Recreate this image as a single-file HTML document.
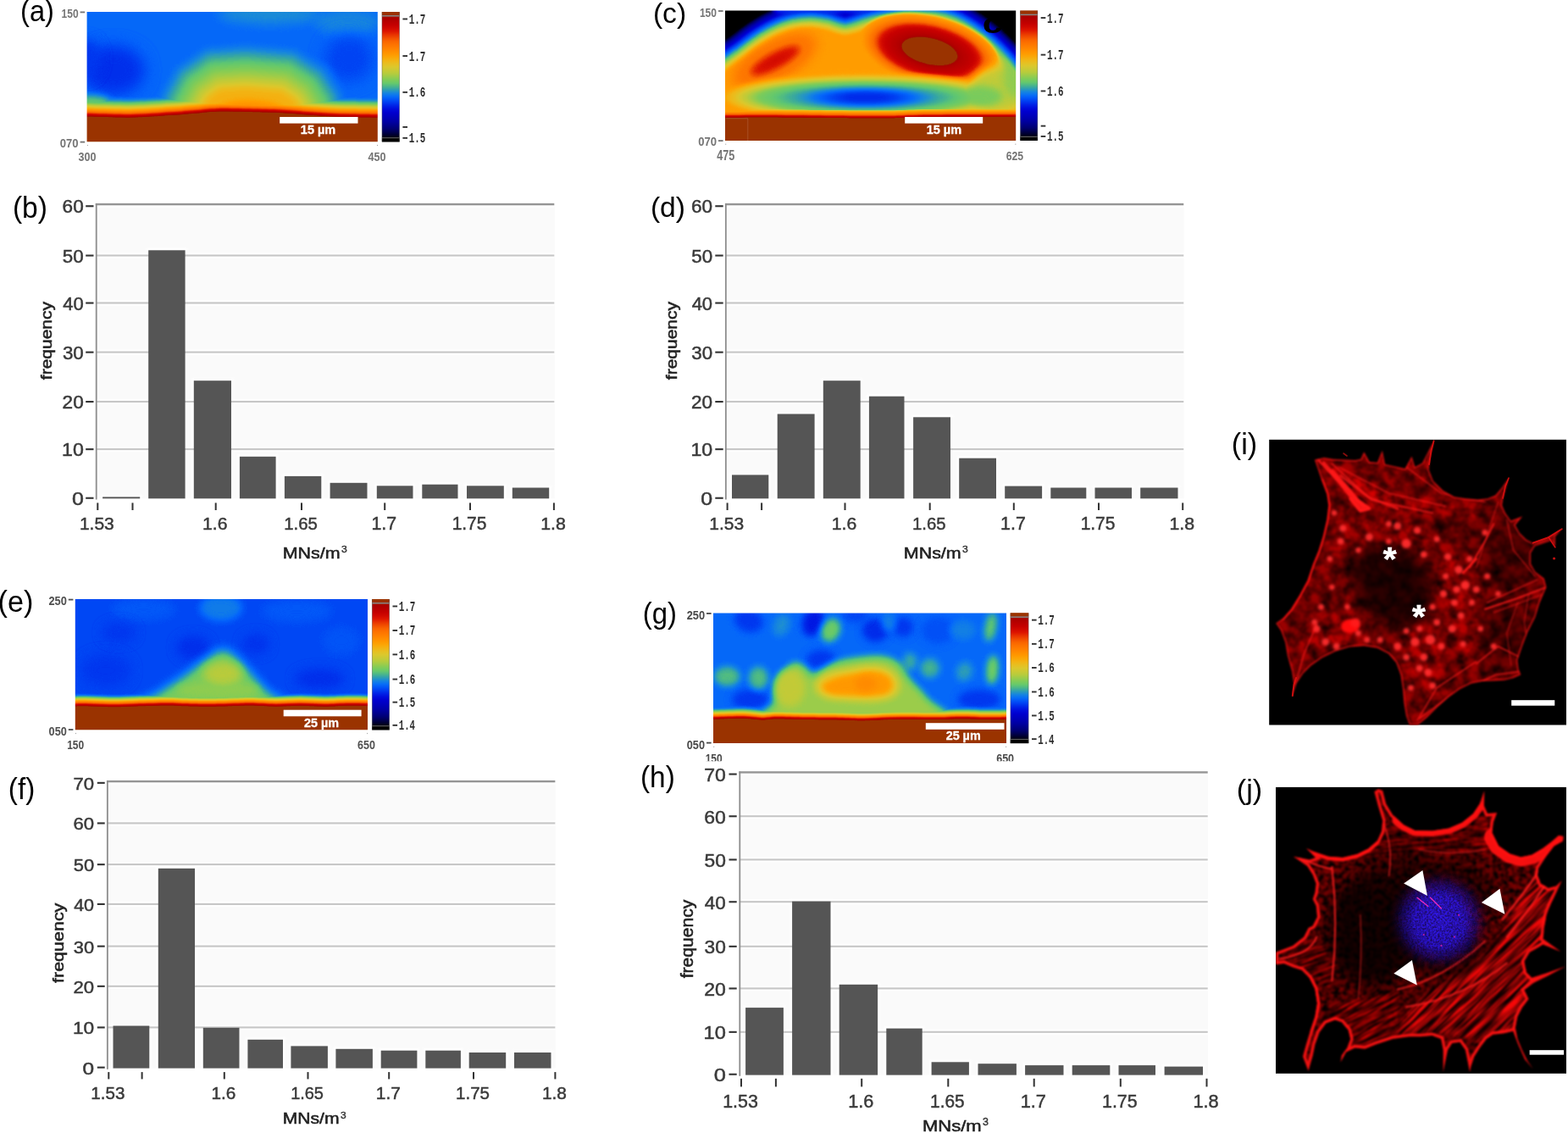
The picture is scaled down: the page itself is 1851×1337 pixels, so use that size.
<!DOCTYPE html>
<html lang="en"><head><meta charset="utf-8"><title>Figure</title>
<style>
html,body{margin:0;padding:0;background:#fff;}
body{width:1851px;height:1337px;overflow:hidden;font-family:"Liberation Sans",sans-serif;}
svg{display:block;}
.lab{font-family:"Liberation Sans",sans-serif;font-size:33px;fill:#000;}
.tk{font-family:"Liberation Sans",sans-serif;font-size:20.5px;fill:#3a3a3a;}
.ax{font-family:"Liberation Sans",sans-serif;font-size:19px;fill:#3a3a3a;}
.hm{font-family:"Liberation Sans",sans-serif;font-weight:bold;font-size:13px;fill:#7a7a7a;}
.cbt{font-family:"Liberation Mono",monospace;font-weight:bold;font-size:15px;fill:#555;}
.sb{font-family:"Liberation Sans",sans-serif;font-weight:bold;font-size:13px;fill:#fff;}
</style></head>
<body>
<svg width="1851" height="1337" viewBox="0 0 1851 1337">
<defs>
<filter id="jet" color-interpolation-filters="sRGB" x="0" y="0" width="1" height="1"><feComponentTransfer><feFuncR type="table" tableValues="0.000 0.000 0.000 0.000 0.000 0.000 0.000 0.000 0.000 0.000 0.000 0.000 0.000 0.000 0.000 0.000 0.000 0.000 0.000 0.000 0.000 0.000 0.000 0.000 0.000 0.000 0.000 0.000 0.000 0.000 0.000 0.000 0.005 0.009 0.014 0.030 0.053 0.076 0.102 0.141 0.180 0.220 0.266 0.312 0.358 0.399 0.437 0.475 0.515 0.559 0.603 0.647 0.691 0.730 0.758 0.787 0.815 0.843 0.868 0.888 0.907 0.926 0.944 0.958 0.972 0.986 1.000 1.000 1.000 1.000 1.000 1.000 1.000 0.999 0.995 0.991 0.987 0.982 0.970 0.958 0.945 0.933 0.917 0.900 0.883 0.867 0.847 0.827 0.808 0.788 0.769 0.750 0.731 0.712 0.693 0.674 0.652 0.627 0.604 0.604 0.604"/><feFuncG type="table" tableValues="0.000 0.000 0.000 0.000 0.000 0.000 0.000 0.000 0.000 0.000 0.000 0.000 0.000 0.000 0.000 0.000 0.000 0.000 0.000 0.000 0.000 0.000 0.000 0.004 0.024 0.043 0.063 0.104 0.144 0.185 0.226 0.267 0.308 0.350 0.391 0.430 0.467 0.504 0.541 0.580 0.620 0.659 0.696 0.733 0.770 0.787 0.792 0.797 0.800 0.800 0.800 0.800 0.800 0.799 0.796 0.793 0.790 0.787 0.780 0.764 0.749 0.734 0.717 0.695 0.672 0.650 0.627 0.607 0.586 0.565 0.544 0.523 0.503 0.483 0.465 0.448 0.430 0.409 0.373 0.338 0.302 0.267 0.221 0.175 0.128 0.082 0.063 0.043 0.024 0.004 0.000 0.000 0.000 0.000 0.000 0.000 0.029 0.078 0.200 0.200 0.200"/><feFuncB type="table" tableValues="0.000 0.010 0.021 0.031 0.100 0.169 0.237 0.293 0.345 0.397 0.450 0.491 0.525 0.558 0.592 0.626 0.660 0.685 0.707 0.730 0.752 0.775 0.798 0.820 0.839 0.859 0.878 0.894 0.910 0.925 0.941 0.957 0.966 0.975 0.985 0.966 0.929 0.892 0.848 0.775 0.701 0.627 0.572 0.517 0.461 0.422 0.394 0.365 0.339 0.317 0.295 0.273 0.251 0.232 0.219 0.206 0.194 0.181 0.167 0.148 0.129 0.109 0.090 0.067 0.045 0.022 0.000 0.000 0.000 0.000 0.000 0.000 0.000 0.000 0.000 0.000 0.000 0.000 0.000 0.000 0.000 0.000 0.000 0.000 0.000 0.000 0.000 0.000 0.000 0.000 0.000 0.000 0.000 0.000 0.000 0.000 0.000 0.000 0.000 0.000 0.000"/></feComponentTransfer></filter>
<filter id="b0_4" x="-50%" y="-50%" width="200%" height="200%" color-interpolation-filters="sRGB"><feGaussianBlur stdDeviation="0.4"/></filter>
<filter id="b0_6" x="-50%" y="-50%" width="200%" height="200%" color-interpolation-filters="sRGB"><feGaussianBlur stdDeviation="0.6"/></filter>
<filter id="b0_8" x="-50%" y="-50%" width="200%" height="200%" color-interpolation-filters="sRGB"><feGaussianBlur stdDeviation="0.8"/></filter>
<filter id="b1" x="-50%" y="-50%" width="200%" height="200%" color-interpolation-filters="sRGB"><feGaussianBlur stdDeviation="1"/></filter>
<filter id="b1_5" x="-50%" y="-50%" width="200%" height="200%" color-interpolation-filters="sRGB"><feGaussianBlur stdDeviation="1.5"/></filter>
<filter id="b2" x="-50%" y="-50%" width="200%" height="200%" color-interpolation-filters="sRGB"><feGaussianBlur stdDeviation="2"/></filter>
<filter id="b3" x="-50%" y="-50%" width="200%" height="200%" color-interpolation-filters="sRGB"><feGaussianBlur stdDeviation="3"/></filter>
<filter id="b4" x="-50%" y="-50%" width="200%" height="200%" color-interpolation-filters="sRGB"><feGaussianBlur stdDeviation="4"/></filter>
<filter id="b5" x="-50%" y="-50%" width="200%" height="200%" color-interpolation-filters="sRGB"><feGaussianBlur stdDeviation="5"/></filter>
<filter id="b6" x="-50%" y="-50%" width="200%" height="200%" color-interpolation-filters="sRGB"><feGaussianBlur stdDeviation="6"/></filter>
<filter id="b8" x="-50%" y="-50%" width="200%" height="200%" color-interpolation-filters="sRGB"><feGaussianBlur stdDeviation="8"/></filter>
<filter id="b10" x="-50%" y="-50%" width="200%" height="200%" color-interpolation-filters="sRGB"><feGaussianBlur stdDeviation="10"/></filter>
<filter id="b12" x="-50%" y="-50%" width="200%" height="200%" color-interpolation-filters="sRGB"><feGaussianBlur stdDeviation="12"/></filter>
<filter id="b15" x="-50%" y="-50%" width="200%" height="200%" color-interpolation-filters="sRGB"><feGaussianBlur stdDeviation="15"/></filter>
<filter id="b20" x="-50%" y="-50%" width="200%" height="200%" color-interpolation-filters="sRGB"><feGaussianBlur stdDeviation="20"/></filter>
<linearGradient id="cbar" x1="0" y1="0" x2="0" y2="1"><stop offset="0.000" stop-color="#9a3300"/><stop offset="0.025" stop-color="#9d2400"/><stop offset="0.050" stop-color="#ac0000"/><stop offset="0.075" stop-color="#b80000"/><stop offset="0.100" stop-color="#c40000"/><stop offset="0.125" stop-color="#d00800"/><stop offset="0.150" stop-color="#dd1500"/><stop offset="0.175" stop-color="#e83200"/><stop offset="0.200" stop-color="#f14d00"/><stop offset="0.225" stop-color="#f96400"/><stop offset="0.250" stop-color="#fd7200"/><stop offset="0.275" stop-color="#ff7e00"/><stop offset="0.300" stop-color="#ff8b00"/><stop offset="0.325" stop-color="#ff9800"/><stop offset="0.350" stop-color="#fba606"/><stop offset="0.375" stop-color="#f2b414"/><stop offset="0.400" stop-color="#e7bf21"/><stop offset="0.425" stop-color="#dbc82d"/><stop offset="0.450" stop-color="#c9ca35"/><stop offset="0.475" stop-color="#b6cc3d"/><stop offset="0.500" stop-color="#9acc4b"/><stop offset="0.525" stop-color="#7ecc59"/><stop offset="0.550" stop-color="#66c96c"/><stop offset="0.575" stop-color="#4ab68b"/><stop offset="0.600" stop-color="#2e9eb3"/><stop offset="0.625" stop-color="#1685df"/><stop offset="0.650" stop-color="#086ef6"/><stop offset="0.675" stop-color="#0254f8"/><stop offset="0.700" stop-color="#003af0"/><stop offset="0.725" stop-color="#0020e6"/><stop offset="0.750" stop-color="#000bdb"/><stop offset="0.775" stop-color="#0000ce"/><stop offset="0.800" stop-color="#0000c0"/><stop offset="0.825" stop-color="#0000b1"/><stop offset="0.850" stop-color="#0000a0"/><stop offset="0.875" stop-color="#00008a"/><stop offset="0.900" stop-color="#000073"/><stop offset="0.925" stop-color="#000051"/><stop offset="0.950" stop-color="#00002b"/><stop offset="0.975" stop-color="#000007"/><stop offset="1.000" stop-color="#000000"/></linearGradient>
<filter id="halo" x="-5%" y="-5%" width="110%" height="110%"><feGaussianBlur stdDeviation="1.2"/></filter>
<filter id="tb" x="-10%" y="-30%" width="120%" height="160%"><feGaussianBlur stdDeviation="0.45"/></filter>
<filter id="tb2" x="-10%" y="-30%" width="120%" height="160%"><feGaussianBlur stdDeviation="0.3"/></filter>
<filter id="fb95_7_00" filterUnits="userSpaceOnUse" x="25" y="-65" width="500" height="310" color-interpolation-filters="sRGB"><feGaussianBlur stdDeviation="7"/></filter>
<filter id="fb95_9_00" filterUnits="userSpaceOnUse" x="25" y="-65" width="500" height="310" color-interpolation-filters="sRGB"><feGaussianBlur stdDeviation="9"/></filter>
<path id="o5_95" d="M234.1,152.8 L239.9,130.4 L247.7,116.8 L260.3,108.1 L289.5,106.1 L331.3,109.6 L345.9,118.8 L353.3,130.4 L358.5,152.8Z"/>
<filter id="fb95_3_50" filterUnits="userSpaceOnUse" x="25" y="-65" width="500" height="310" color-interpolation-filters="sRGB"><feGaussianBlur stdDeviation="3.5"/></filter>
<filter id="fb95_4_00" filterUnits="userSpaceOnUse" x="25" y="-65" width="500" height="310" color-interpolation-filters="sRGB"><feGaussianBlur stdDeviation="4"/></filter>
<filter id="fb95_0_80" filterUnits="userSpaceOnUse" x="25" y="-65" width="500" height="310" color-interpolation-filters="sRGB"><feGaussianBlur stdDeviation="0.8"/></filter>
<path id="o0_850" d="M811.1,113.9 C815.6,100.0 830.7,101.4 838.3,96.4 C845.9,91.4 850.0,88.3 856.8,83.8 C863.6,79.2 872.2,74.0 879.2,69.2 C886.1,64.3 892.1,59.0 898.6,54.6 C905.1,50.2 911.6,46.1 918.1,42.9 C924.6,39.8 931.0,37.3 937.5,35.7 C944.0,34.1 950.8,33.4 957.0,33.4 C963.1,33.4 969.6,34.7 974.5,35.7 C979.3,36.8 982.3,38.6 986.1,39.6 C990.0,40.7 993.9,42.0 997.8,42.0 C1001.7,42.0 1005.6,40.7 1009.5,39.6 C1013.4,38.6 1016.9,37.0 1021.1,35.7 C1025.4,34.4 1029.3,33.0 1034.8,31.8 C1040.3,30.7 1047.7,29.6 1054.2,28.7 C1060.7,27.9 1065.6,27.0 1073.7,26.8 C1081.8,26.5 1094.7,26.3 1102.8,27.2 C1110.9,28.1 1115.8,29.6 1122.3,32.2 C1128.8,34.9 1135.2,38.6 1141.7,42.9 C1148.2,47.2 1154.7,52.2 1161.2,57.9 C1167.7,63.6 1174.3,70.6 1180.6,77.3 C1187.0,84.1 1189.4,89.7 1199.1,98.4 C1208.8,107.0 1232.3,115.9 1239.0,129.5 C1245.6,143.1 1310.3,171.6 1239.0,180.0 C1167.7,188.5 882.4,191.1 811.1,180.0 C739.8,169.0 806.6,127.9 811.1,113.9Z"/>
<filter id="fb850_1_50" filterUnits="userSpaceOnUse" x="780" y="-65" width="500" height="310" color-interpolation-filters="sRGB"><feGaussianBlur stdDeviation="1.5"/></filter>
<filter id="fb850_2_50" filterUnits="userSpaceOnUse" x="780" y="-65" width="500" height="310" color-interpolation-filters="sRGB"><feGaussianBlur stdDeviation="2.5"/></filter>
<filter id="fb850_7_00" filterUnits="userSpaceOnUse" x="780" y="-65" width="500" height="310" color-interpolation-filters="sRGB"><feGaussianBlur stdDeviation="7"/></filter>
<filter id="fb850_8_00" filterUnits="userSpaceOnUse" x="780" y="-65" width="500" height="310" color-interpolation-filters="sRGB"><feGaussianBlur stdDeviation="8"/></filter>
<filter id="fb850_1_60" filterUnits="userSpaceOnUse" x="780" y="-65" width="500" height="310" color-interpolation-filters="sRGB"><feGaussianBlur stdDeviation="1.6"/></filter>
<filter id="fb850_6_00" filterUnits="userSpaceOnUse" x="780" y="-65" width="500" height="310" color-interpolation-filters="sRGB"><feGaussianBlur stdDeviation="6"/></filter>
<filter id="fb850_5_00" filterUnits="userSpaceOnUse" x="780" y="-65" width="500" height="310" color-interpolation-filters="sRGB"><feGaussianBlur stdDeviation="5"/></filter>
<filter id="fb850_2_00" filterUnits="userSpaceOnUse" x="780" y="-65" width="500" height="310" color-interpolation-filters="sRGB"><feGaussianBlur stdDeviation="2.0"/></filter>
<filter id="fb850_0_70" filterUnits="userSpaceOnUse" x="780" y="-65" width="500" height="310" color-interpolation-filters="sRGB"><feGaussianBlur stdDeviation="0.7"/></filter>
<filter id="fb82_5_00" filterUnits="userSpaceOnUse" x="12" y="628" width="500" height="310" color-interpolation-filters="sRGB"><feGaussianBlur stdDeviation="5"/></filter>
<filter id="fb82_6_00" filterUnits="userSpaceOnUse" x="12" y="628" width="500" height="310" color-interpolation-filters="sRGB"><feGaussianBlur stdDeviation="6"/></filter>
<filter id="fb82_7_00" filterUnits="userSpaceOnUse" x="12" y="628" width="500" height="310" color-interpolation-filters="sRGB"><feGaussianBlur stdDeviation="7"/></filter>
<filter id="fb82_4_50" filterUnits="userSpaceOnUse" x="12" y="628" width="500" height="310" color-interpolation-filters="sRGB"><feGaussianBlur stdDeviation="4.5"/></filter>
<filter id="fb82_0_80" filterUnits="userSpaceOnUse" x="12" y="628" width="500" height="310" color-interpolation-filters="sRGB"><feGaussianBlur stdDeviation="0.8"/></filter>
<filter id="fb835_4_50" filterUnits="userSpaceOnUse" x="765" y="645" width="500" height="310" color-interpolation-filters="sRGB"><feGaussianBlur stdDeviation="4.5"/></filter>
<filter id="fb835_4_00" filterUnits="userSpaceOnUse" x="765" y="645" width="500" height="310" color-interpolation-filters="sRGB"><feGaussianBlur stdDeviation="4"/></filter>
<filter id="fb835_5_00" filterUnits="userSpaceOnUse" x="765" y="645" width="500" height="310" color-interpolation-filters="sRGB"><feGaussianBlur stdDeviation="5"/></filter>
<filter id="fb835_3_50" filterUnits="userSpaceOnUse" x="765" y="645" width="500" height="310" color-interpolation-filters="sRGB"><feGaussianBlur stdDeviation="3.5"/></filter>
<filter id="fb835_0_80" filterUnits="userSpaceOnUse" x="765" y="645" width="500" height="310" color-interpolation-filters="sRGB"><feGaussianBlur stdDeviation="0.8"/></filter>
<clipPath id="clipA"><rect x="102.6" y="14.0" width="343.2" height="153.3"/></clipPath>
<clipPath id="clipC"><rect x="856.0" y="12.6" width="343.2" height="153.4"/></clipPath>
<clipPath id="clipE"><rect x="88.8" y="707.0" width="345.2" height="154.3"/></clipPath>
<clipPath id="clipG"><rect x="842.0" y="723.4" width="346.0" height="153.7"/></clipPath>
<clipPath id="clipxG"><rect x="802.0" y="877.1" width="426.0" height="21.2"/></clipPath>
<clipPath id="clipxG"><rect x="802.0" y="877.1" width="426.0" height="21.2"/></clipPath>
<filter id="cb05" x="-40%" y="-40%" width="180%" height="180%" color-interpolation-filters="sRGB"><feGaussianBlur stdDeviation="0.6"/></filter>
<filter id="cb1" x="-40%" y="-40%" width="180%" height="180%" color-interpolation-filters="sRGB"><feGaussianBlur stdDeviation="1.0"/></filter>
<filter id="cb15" x="-40%" y="-40%" width="180%" height="180%" color-interpolation-filters="sRGB"><feGaussianBlur stdDeviation="1.5"/></filter>
<filter id="cb2" x="-40%" y="-40%" width="180%" height="180%" color-interpolation-filters="sRGB"><feGaussianBlur stdDeviation="2.2"/></filter>
<filter id="cb4" x="-40%" y="-40%" width="180%" height="180%" color-interpolation-filters="sRGB"><feGaussianBlur stdDeviation="4.5"/></filter>
<filter id="cb8" x="-40%" y="-40%" width="180%" height="180%" color-interpolation-filters="sRGB"><feGaussianBlur stdDeviation="9"/></filter>
<filter id="cb14" x="-40%" y="-40%" width="180%" height="180%" color-interpolation-filters="sRGB"><feGaussianBlur stdDeviation="14"/></filter>
<filter id="grainI" x="0" y="0" width="1" height="1" color-interpolation-filters="sRGB"><feTurbulence type="fractalNoise" baseFrequency="0.075" numOctaves="3" seed="7" result="n"/><feColorMatrix in="n" type="matrix" values="0 0 0 0 0  0 0 0 0 0  0 0 0 0 0  1.5 0 0 0 -0.42" result="a"/><feFlood flood-color="#000"/><feComposite operator="in" in2="a" result="dark"/><feComposite in="dark" in2="SourceGraphic" operator="over"/><feComposite in2="SourceGraphic" operator="in"/></filter>
<filter id="grainJ" x="0" y="0" width="1" height="1" color-interpolation-filters="sRGB"><feTurbulence type="fractalNoise" baseFrequency="0.16" numOctaves="2" seed="11" result="n"/><feColorMatrix in="n" type="matrix" values="0 0 0 0 0  0 0 0 0 0  0 0 0 0 0  2.4 0 0 0 -0.8" result="a"/><feFlood flood-color="#000"/><feComposite operator="in" in2="a" result="dark"/><feComposite in="dark" in2="SourceGraphic" operator="over"/><feComposite in2="SourceGraphic" operator="in"/></filter>
<clipPath id="clipI"><rect x="1498.2" y="518.8" width="350.8" height="336.7"/></clipPath>
<path id="cellI" d="M1551.9,542.5 L1563.1,539.9 L1573.5,541.8 L1599.7,543.1 L1606.3,541.8 L1610.2,533.3 L1616.7,545.1 L1625.9,545.8 L1631.8,531.4 L1635.0,547.7 L1658.6,553.0 L1666.5,538.6 L1670.4,551.0 L1678.9,546.4 L1692.6,520.2 L1688.0,541.2 L1686.7,554.3 L1691.9,567.4 L1703.7,579.1 L1716.8,586.3 L1729.9,588.3 L1744.3,589.6 L1756.1,588.3 L1765.2,584.4 L1773.1,575.2 L1781.0,564.1 L1774.4,588.3 L1773.1,596.2 L1777.0,605.3 L1783.6,614.5 L1797.3,609.2 L1788.8,619.7 L1794.0,628.9 L1801.9,636.7 L1809.7,640.7 L1828.1,634.1 L1843.8,624.3 L1836.0,633.0 L1835.9,645.9 L1831.0,638.0 L1812.0,644.5 L1807.1,652.4 L1807.1,665.5 L1812.4,674.7 L1822.8,682.5 L1825.5,692.9 L1817.6,711.2 L1812.4,728.2 L1803.2,746.5 L1796.7,763.5 L1791.4,779.2 L1792.7,789.7 L1795.3,796.3 L1786.2,800.2 L1775.7,802.8 L1762.6,803.5 L1749.5,804.1 L1736.4,806.7 L1723.4,813.3 L1710.3,822.4 L1697.2,834.2 L1684.1,847.3 L1674.0,855.6 L1663.8,855.6 L1659.9,844.7 L1657.3,829.0 L1656.0,813.3 L1653.4,796.3 L1648.1,781.9 L1639.0,771.4 L1625.9,764.8 L1610.2,762.2 L1593.2,763.5 L1576.2,768.8 L1560.4,776.6 L1547.4,785.8 L1538.2,794.9 L1530.3,806.7 L1525.8,821.1 L1527.7,809.3 L1525.1,792.3 L1519.9,774.0 L1517.3,758.3 L1512.0,743.9 L1506.1,735.4 L1514.6,729.5 L1523.8,719.0 L1534.3,702.0 L1543.4,685.0 L1550.0,665.5 L1556.5,649.8 L1561.8,632.8 L1566.3,613.2 L1568.3,596.2 L1566.3,583.1 L1560.4,567.4Z"/>
<clipPath id="clipCellI"><use href="#cellI"/></clipPath>
<clipPath id="clipJ"><rect x="1506.0" y="928.9" width="343.0" height="337.9"/></clipPath>
<path id="cellJ" d="M1622.4,934.2 L1627.0,930.9 L1632.2,932.9 L1636.1,948.6 L1644.0,961.6 L1657.1,973.4 L1670.2,980.0 L1690.6,980.6 L1710.3,977.4 L1726.0,970.8 L1739.1,960.3 L1746.9,948.6 L1752.2,932.9 L1752.0,951.0 L1756.0,960.0 L1767.2,959.0 L1763.0,970.0 L1761.3,982.6 L1769.2,998.3 L1782.3,1007.5 L1795.3,1011.4 L1808.4,1008.8 L1821.5,1000.9 L1832.0,993.1 L1840.0,986.0 L1845.5,987.0 L1845.0,992.5 L1834.6,998.3 L1825.5,1010.1 L1816.3,1024.5 L1815.0,1032.3 L1818.9,1042.8 L1828.1,1048.0 L1837.2,1045.4 L1843.8,1038.9 L1837.2,1053.3 L1830.7,1066.4 L1825.5,1079.5 L1822.8,1095.0 L1821.5,1108.1 L1842.5,1123.1 L1821.5,1114.6 L1805.8,1123.8 L1799.3,1134.3 L1801.9,1147.4 L1808.4,1153.9 L1828.1,1147.4 L1848.4,1140.2 L1828.0,1151.0 L1810.0,1160.0 L1799.3,1168.3 L1804.5,1178.8 L1796.7,1189.2 L1791.4,1199.7 L1788.8,1212.8 L1791.4,1225.9 L1796.7,1239.0 L1803.2,1252.1 L1809.7,1261.2 L1800.0,1250.0 L1792.0,1232.0 L1786.2,1216.7 L1775.7,1219.3 L1762.6,1220.7 L1754.8,1225.9 L1746.9,1236.4 L1740.4,1246.8 L1736.4,1258.6 L1735.1,1265.2 L1732.5,1252.1 L1729.9,1239.0 L1723.4,1229.8 L1714.2,1231.1 L1709.0,1239.0 L1706.3,1252.1 L1703.7,1265.2 L1703.7,1239.0 L1701.1,1225.9 L1690.6,1222.0 L1677.5,1223.3 L1663.6,1223.3 L1644.0,1225.9 L1624.3,1232.4 L1611.3,1237.7 L1599.5,1236.4 L1589.0,1241.6 L1582.5,1253.4 L1583.8,1245.5 L1590.3,1236.4 L1594.2,1225.9 L1591.6,1215.4 L1583.8,1206.3 L1575.9,1203.6 L1565.4,1207.6 L1557.6,1218.0 L1552.4,1232.4 L1549.7,1245.5 L1544.5,1263.8 L1538.0,1246.8 L1541.9,1232.4 L1547.1,1215.4 L1552.4,1199.7 L1555.0,1184.0 L1552.4,1167.0 L1545.8,1153.9 L1536.6,1144.7 L1526.2,1141.5 L1515.7,1136.9 L1505.9,1138.2 L1505.9,1123.8 L1526.2,1115.9 L1539.3,1105.5 L1544.5,1095.0 L1549.7,1092.5 L1555.0,1082.1 L1553.7,1069.0 L1549.7,1061.1 L1552.4,1053.3 L1553.7,1042.8 L1549.7,1032.3 L1543.2,1021.9 L1526.8,1010.7 L1546.0,1014.5 L1553.0,1012.0 L1542.0,1001.0 L1552.4,1005.5 L1568.1,1010.7 L1585.1,1012.0 L1602.1,1008.1 L1615.2,1001.5 L1625.7,992.4 L1630.9,981.3 L1632.2,968.2 L1627.0,951.2Z"/>
<clipPath id="clipCellJ"><use href="#cellJ"/></clipPath>
<filter id="fibA" x="-20%" y="-20%" width="140%" height="140%" color-interpolation-filters="sRGB"><feGaussianBlur in="SourceGraphic" stdDeviation="4.0" result="sg"/><feTurbulence type="fractalNoise" baseFrequency="0.022 0.30" numOctaves="2" seed="5" result="n"/><feColorMatrix in="n" type="matrix" values="0 0 0 0 0  0 0 0 0 0  0 0 0 0 0  2.6 0 0 0 -0.78" result="a"/><feFlood flood-color="#000"/><feComposite operator="in" in2="a" result="dark"/><feComposite in="dark" in2="sg" operator="over"/><feComposite in2="sg" operator="in"/></filter>
<filter id="fibB" x="-20%" y="-20%" width="140%" height="140%" color-interpolation-filters="sRGB"><feGaussianBlur in="SourceGraphic" stdDeviation="4.0" result="sg"/><feTurbulence type="fractalNoise" baseFrequency="0.03 0.34" numOctaves="2" seed="9" result="n"/><feColorMatrix in="n" type="matrix" values="0 0 0 0 0  0 0 0 0 0  0 0 0 0 0  2.8 0 0 0 -0.8" result="a"/><feFlood flood-color="#000"/><feComposite operator="in" in2="a" result="dark"/><feComposite in="dark" in2="sg" operator="over"/><feComposite in2="sg" operator="in"/></filter>
<filter id="fibC" x="-20%" y="-20%" width="140%" height="140%" color-interpolation-filters="sRGB"><feGaussianBlur in="SourceGraphic" stdDeviation="3.5" result="sg"/><feTurbulence type="fractalNoise" baseFrequency="0.03 0.30" numOctaves="2" seed="2" result="n"/><feColorMatrix in="n" type="matrix" values="0 0 0 0 0  0 0 0 0 0  0 0 0 0 0  2.6 0 0 0 -0.62" result="a"/><feFlood flood-color="#000"/><feComposite operator="in" in2="a" result="dark"/><feComposite in="dark" in2="sg" operator="over"/><feComposite in2="sg" operator="in"/></filter>
<radialGradient id="gN" gradientUnits="userSpaceOnUse" cx="1698.8" cy="1086.2" r="64"><stop offset="0" stop-color="#3018ec" stop-opacity="1"/><stop offset="0.48" stop-color="#2c14e0" stop-opacity="0.96"/><stop offset="0.7" stop-color="#240cbc" stop-opacity="0.7"/><stop offset="0.87" stop-color="#180680" stop-opacity="0.3"/><stop offset="1" stop-color="#100060" stop-opacity="0"/></radialGradient>
<filter id="grainN" x="0" y="0" width="1" height="1" color-interpolation-filters="sRGB"><feTurbulence type="fractalNoise" baseFrequency="0.45" numOctaves="2" seed="4" result="n"/><feColorMatrix in="n" type="matrix" values="0 0 0 0 0  0 0 0 0 0  0 0 0 0 0  1.3 0 0 0 -0.42" result="a"/><feFlood flood-color="#100010"/><feComposite operator="in" in2="a" result="dark"/><feComposite in="dark" in2="SourceGraphic" operator="over"/><feComposite in2="SourceGraphic" operator="in"/></filter>
</defs>
<rect x="113.7" y="241.1" width="541.0" height="347.2" fill="#fafafa"/>
<g filter="url(#halo)" opacity="0.9"><rect x="118.5" y="583.8" width="49.3" height="4.5" fill="#fff"/><rect x="172.6" y="292.7" width="48.6" height="295.6" fill="#fff"/><rect x="226.2" y="446.6" width="49.4" height="141.7" fill="#fff"/><rect x="280.3" y="536.2" width="47.9" height="52.1" fill="#fff"/><rect x="333.3" y="559.3" width="48.6" height="29.0" fill="#fff"/><rect x="387.0" y="567.2" width="49.1" height="21.1" fill="#fff"/><rect x="442.2" y="570.7" width="47.9" height="17.6" fill="#fff"/><rect x="495.7" y="569.1" width="47.4" height="19.2" fill="#fff"/><rect x="548.4" y="570.7" width="49.0" height="17.6" fill="#fff"/><rect x="602.2" y="572.9" width="48.6" height="15.4" fill="#fff"/></g>
<rect x="113.7" y="526.90" width="541.0" height="6.4" fill="#fff" opacity="0.75"/>
<rect x="113.7" y="529.05" width="540.6" height="2.1" fill="#c6c6c6"/>
<rect x="113.7" y="470.80" width="541.0" height="6.4" fill="#fff" opacity="0.75"/>
<rect x="113.7" y="472.95" width="540.6" height="2.1" fill="#c6c6c6"/>
<rect x="113.7" y="412.40" width="541.0" height="6.4" fill="#fff" opacity="0.75"/>
<rect x="113.7" y="414.55" width="540.6" height="2.1" fill="#c6c6c6"/>
<rect x="113.7" y="354.30" width="541.0" height="6.4" fill="#fff" opacity="0.75"/>
<rect x="113.7" y="356.45" width="540.6" height="2.1" fill="#c6c6c6"/>
<rect x="113.7" y="298.30" width="541.0" height="6.4" fill="#fff" opacity="0.75"/>
<rect x="113.7" y="300.45" width="540.6" height="2.1" fill="#c6c6c6"/>
<rect x="121.1" y="586.4" width="44.1" height="1.9" fill="#555"/>
<rect x="175.2" y="295.3" width="43.4" height="293.0" fill="#555"/>
<rect x="228.8" y="449.2" width="44.2" height="139.1" fill="#555"/>
<rect x="282.9" y="538.8" width="42.7" height="49.5" fill="#555"/>
<rect x="335.9" y="561.9" width="43.4" height="26.4" fill="#555"/>
<rect x="389.6" y="569.8" width="43.9" height="18.5" fill="#555"/>
<rect x="444.8" y="573.3" width="42.7" height="15.0" fill="#555"/>
<rect x="498.3" y="571.7" width="42.2" height="16.6" fill="#555"/>
<rect x="551.0" y="573.3" width="43.8" height="15.0" fill="#555"/>
<rect x="604.8" y="575.5" width="43.4" height="12.8" fill="#555"/>
<rect x="113.7" y="241.10" width="541.0" height="3.6" fill="#fff" opacity="0.8"/>
<rect x="112.80" y="239.90" width="541.5" height="2.4" fill="#959595"/>
<rect x="112.80" y="240.10" width="1.8" height="349.4" fill="#8e8e8e"/>
<rect x="101.2" y="586.70" width="9.3" height="2.1" fill="#333"/>
<text font-family='"Liberation Sans",sans-serif' font-size="21.48" fill="#3a3a3a" stroke="#3a3a3a" stroke-width="0.50" transform="translate(84.95,595.94) scale(1.1600,1)">0</text>
<rect x="101.2" y="529.10" width="9.3" height="2.1" fill="#333"/>
<text font-family='"Liberation Sans",sans-serif' font-size="21.48" fill="#3a3a3a" stroke="#3a3a3a" stroke-width="0.50" transform="translate(73.01,538.34) scale(1.0779,1)">10</text>
<rect x="101.2" y="473.00" width="9.3" height="2.1" fill="#333"/>
<text font-family='"Liberation Sans",sans-serif' font-size="21.48" fill="#3a3a3a" stroke="#3a3a3a" stroke-width="0.50" transform="translate(73.62,482.24) scale(1.0516,1)">20</text>
<rect x="101.2" y="414.60" width="9.3" height="2.1" fill="#333"/>
<text font-family='"Liberation Sans",sans-serif' font-size="21.48" fill="#3a3a3a" stroke="#3a3a3a" stroke-width="0.50" transform="translate(73.91,423.84) scale(1.0389,1)">30</text>
<rect x="101.2" y="356.50" width="9.3" height="2.1" fill="#333"/>
<text font-family='"Liberation Sans",sans-serif' font-size="21.48" fill="#3a3a3a" stroke="#3a3a3a" stroke-width="0.50" transform="translate(74.25,365.74) scale(1.0240,1)">40</text>
<rect x="101.2" y="300.50" width="9.3" height="2.1" fill="#333"/>
<text font-family='"Liberation Sans",sans-serif' font-size="21.48" fill="#3a3a3a" stroke="#3a3a3a" stroke-width="0.50" transform="translate(73.86,309.74) scale(1.0414,1)">50</text>
<rect x="101.2" y="242.20" width="9.3" height="2.1" fill="#333"/>
<text font-family='"Liberation Sans",sans-serif' font-size="21.48" fill="#3a3a3a" stroke="#3a3a3a" stroke-width="0.50" transform="translate(73.62,251.44) scale(1.0516,1)">60</text>
<rect x="114.30" y="593.4" width="2" height="8.6" fill="#333"/>
<text font-family='"Liberation Sans",sans-serif' font-size="21.06" fill="#3a3a3a" stroke="#3a3a3a" stroke-width="0.50" transform="translate(93.92,625.24) scale(0.9977,1)">1.53</text>
<rect x="155.50" y="593.4" width="2" height="8.6" fill="#333"/>
<rect x="253.70" y="593.4" width="2" height="8.6" fill="#333"/>
<text font-family='"Liberation Sans",sans-serif' font-size="21.06" fill="#3a3a3a" stroke="#3a3a3a" stroke-width="0.50" transform="translate(239.01,625.24) scale(1.0075,1)">1.6</text>
<rect x="355.00" y="593.4" width="2" height="8.6" fill="#333"/>
<text font-family='"Liberation Sans",sans-serif' font-size="21.06" fill="#3a3a3a" stroke="#3a3a3a" stroke-width="0.50" transform="translate(335.22,625.24) scale(0.9678,1)">1.65</text>
<rect x="453.20" y="593.4" width="2" height="8.6" fill="#333"/>
<text font-family='"Liberation Sans",sans-serif' font-size="21.67" fill="#3a3a3a" stroke="#3a3a3a" stroke-width="0.50" transform="translate(438.50,625.45) scale(0.9848,1)">1.7</text>
<rect x="554.00" y="593.4" width="2" height="8.6" fill="#333"/>
<text font-family='"Liberation Sans",sans-serif' font-size="21.36" fill="#3a3a3a" stroke="#3a3a3a" stroke-width="0.50" transform="translate(533.63,625.24) scale(0.9823,1)">1.75</text>
<rect x="652.90" y="593.4" width="2" height="8.6" fill="#333"/>
<text font-family='"Liberation Sans",sans-serif' font-size="21.06" fill="#3a3a3a" stroke="#3a3a3a" stroke-width="0.50" transform="translate(638.15,625.24) scale(1.0112,1)">1.8</text>
<text font-family='"Liberation Sans",sans-serif' font-size="18.57" fill="#222" stroke="#222" stroke-width="0.55" transform="translate(333.70,658.64) scale(1.1554,1)">MNs/m</text>
<text font-family='"Liberation Sans",sans-serif' font-size="11.59" fill="#333" stroke="#333" stroke-width="0.40" transform="translate(402.94,652.28) scale(1.0535,1)">3</text>
<text font-family='"Liberation Sans",sans-serif' font-size="19.19" fill="#222" stroke="#222" stroke-width="0.55" transform="translate(60.74,448.14) rotate(-90) scale(1.0938,1)">frequency</text>
<rect x="856.85" y="241.1" width="540.8" height="347.2" fill="#fafafa"/>
<g filter="url(#halo)" opacity="0.9"><rect x="861.4" y="557.8" width="48.5" height="30.5" fill="#fff"/><rect x="915.1" y="485.9" width="49.1" height="102.4" fill="#fff"/><rect x="969.2" y="446.6" width="49.1" height="141.7" fill="#fff"/><rect x="1023.3" y="465.1" width="46.8" height="123.2" fill="#fff"/><rect x="1075.5" y="489.7" width="49.1" height="98.6" fill="#fff"/><rect x="1129.6" y="538.1" width="49.0" height="50.2" fill="#fff"/><rect x="1183.6" y="571.0" width="49.1" height="17.3" fill="#fff"/><rect x="1237.7" y="572.9" width="47.2" height="15.4" fill="#fff"/><rect x="1289.9" y="572.9" width="48.7" height="15.4" fill="#fff"/><rect x="1343.6" y="572.9" width="49.5" height="15.4" fill="#fff"/></g>
<rect x="856.85" y="526.90" width="540.8" height="6.4" fill="#fff" opacity="0.75"/>
<rect x="856.85" y="529.05" width="540.4" height="2.1" fill="#c6c6c6"/>
<rect x="856.85" y="470.80" width="540.8" height="6.4" fill="#fff" opacity="0.75"/>
<rect x="856.85" y="472.95" width="540.4" height="2.1" fill="#c6c6c6"/>
<rect x="856.85" y="412.40" width="540.8" height="6.4" fill="#fff" opacity="0.75"/>
<rect x="856.85" y="414.55" width="540.4" height="2.1" fill="#c6c6c6"/>
<rect x="856.85" y="354.30" width="540.8" height="6.4" fill="#fff" opacity="0.75"/>
<rect x="856.85" y="356.45" width="540.4" height="2.1" fill="#c6c6c6"/>
<rect x="856.85" y="298.30" width="540.8" height="6.4" fill="#fff" opacity="0.75"/>
<rect x="856.85" y="300.45" width="540.4" height="2.1" fill="#c6c6c6"/>
<rect x="864.0" y="560.4" width="43.3" height="27.9" fill="#555"/>
<rect x="917.7" y="488.5" width="43.9" height="99.8" fill="#555"/>
<rect x="971.8" y="449.2" width="43.9" height="139.1" fill="#555"/>
<rect x="1025.9" y="467.7" width="41.6" height="120.6" fill="#555"/>
<rect x="1078.1" y="492.3" width="43.9" height="96.0" fill="#555"/>
<rect x="1132.2" y="540.7" width="43.8" height="47.6" fill="#555"/>
<rect x="1186.2" y="573.6" width="43.9" height="14.7" fill="#555"/>
<rect x="1240.3" y="575.5" width="42.0" height="12.8" fill="#555"/>
<rect x="1292.5" y="575.5" width="43.5" height="12.8" fill="#555"/>
<rect x="1346.2" y="575.5" width="44.3" height="12.8" fill="#555"/>
<rect x="856.85" y="241.10" width="540.8" height="3.6" fill="#fff" opacity="0.8"/>
<rect x="855.95" y="239.90" width="541.3" height="2.4" fill="#959595"/>
<rect x="855.95" y="240.10" width="1.8" height="349.4" fill="#8e8e8e"/>
<rect x="844.3" y="586.70" width="9.4" height="2.1" fill="#333"/>
<text font-family='"Liberation Sans",sans-serif' font-size="21.48" fill="#3a3a3a" stroke="#3a3a3a" stroke-width="0.50" transform="translate(827.35,595.94) scale(1.1600,1)">0</text>
<rect x="844.3" y="529.10" width="9.4" height="2.1" fill="#333"/>
<text font-family='"Liberation Sans",sans-serif' font-size="21.48" fill="#3a3a3a" stroke="#3a3a3a" stroke-width="0.50" transform="translate(815.41,538.34) scale(1.0779,1)">10</text>
<rect x="844.3" y="473.00" width="9.4" height="2.1" fill="#333"/>
<text font-family='"Liberation Sans",sans-serif' font-size="21.48" fill="#3a3a3a" stroke="#3a3a3a" stroke-width="0.50" transform="translate(816.02,482.24) scale(1.0516,1)">20</text>
<rect x="844.3" y="414.60" width="9.4" height="2.1" fill="#333"/>
<text font-family='"Liberation Sans",sans-serif' font-size="21.48" fill="#3a3a3a" stroke="#3a3a3a" stroke-width="0.50" transform="translate(816.31,423.84) scale(1.0389,1)">30</text>
<rect x="844.3" y="356.50" width="9.4" height="2.1" fill="#333"/>
<text font-family='"Liberation Sans",sans-serif' font-size="21.48" fill="#3a3a3a" stroke="#3a3a3a" stroke-width="0.50" transform="translate(816.65,365.74) scale(1.0240,1)">40</text>
<rect x="844.3" y="300.50" width="9.4" height="2.1" fill="#333"/>
<text font-family='"Liberation Sans",sans-serif' font-size="21.48" fill="#3a3a3a" stroke="#3a3a3a" stroke-width="0.50" transform="translate(816.26,309.74) scale(1.0414,1)">50</text>
<rect x="844.3" y="242.20" width="9.4" height="2.1" fill="#333"/>
<text font-family='"Liberation Sans",sans-serif' font-size="21.48" fill="#3a3a3a" stroke="#3a3a3a" stroke-width="0.50" transform="translate(816.02,251.44) scale(1.0516,1)">60</text>
<rect x="857.60" y="593.4" width="2" height="8.6" fill="#333"/>
<text font-family='"Liberation Sans",sans-serif' font-size="21.06" fill="#3a3a3a" stroke="#3a3a3a" stroke-width="0.50" transform="translate(837.22,625.24) scale(0.9977,1)">1.53</text>
<rect x="898.10" y="593.4" width="2" height="8.6" fill="#333"/>
<rect x="996.50" y="593.4" width="2" height="8.6" fill="#333"/>
<text font-family='"Liberation Sans",sans-serif' font-size="21.06" fill="#3a3a3a" stroke="#3a3a3a" stroke-width="0.50" transform="translate(981.81,625.24) scale(1.0075,1)">1.6</text>
<rect x="1096.70" y="593.4" width="2" height="8.6" fill="#333"/>
<text font-family='"Liberation Sans",sans-serif' font-size="21.06" fill="#3a3a3a" stroke="#3a3a3a" stroke-width="0.50" transform="translate(1076.92,625.24) scale(0.9678,1)">1.65</text>
<rect x="1195.80" y="593.4" width="2" height="8.6" fill="#333"/>
<text font-family='"Liberation Sans",sans-serif' font-size="21.67" fill="#3a3a3a" stroke="#3a3a3a" stroke-width="0.50" transform="translate(1181.10,625.45) scale(0.9848,1)">1.7</text>
<rect x="1296.00" y="593.4" width="2" height="8.6" fill="#333"/>
<text font-family='"Liberation Sans",sans-serif' font-size="21.36" fill="#3a3a3a" stroke="#3a3a3a" stroke-width="0.50" transform="translate(1275.63,625.24) scale(0.9823,1)">1.75</text>
<rect x="1395.20" y="593.4" width="2" height="8.6" fill="#333"/>
<text font-family='"Liberation Sans",sans-serif' font-size="21.06" fill="#3a3a3a" stroke="#3a3a3a" stroke-width="0.50" transform="translate(1380.45,625.24) scale(1.0112,1)">1.8</text>
<text font-family='"Liberation Sans",sans-serif' font-size="18.57" fill="#222" stroke="#222" stroke-width="0.55" transform="translate(1066.80,658.64) scale(1.1554,1)">MNs/m</text>
<text font-family='"Liberation Sans",sans-serif' font-size="11.59" fill="#333" stroke="#333" stroke-width="0.40" transform="translate(1136.04,652.28) scale(1.0535,1)">3</text>
<text font-family='"Liberation Sans",sans-serif' font-size="19.19" fill="#222" stroke="#222" stroke-width="0.55" transform="translate(799.14,448.14) rotate(-90) scale(1.0938,1)">frequency</text>
<rect x="126.85" y="922.1" width="528.9" height="338.5" fill="#fafafa"/>
<g filter="url(#halo)" opacity="0.9"><rect x="130.9" y="1207.9" width="48.0" height="52.7" fill="#fff"/><rect x="184.2" y="1022.2" width="48.4" height="238.4" fill="#fff"/><rect x="237.2" y="1210.2" width="47.9" height="50.4" fill="#fff"/><rect x="289.8" y="1224.2" width="46.8" height="36.4" fill="#fff"/><rect x="340.8" y="1231.8" width="48.7" height="28.8" fill="#fff"/><rect x="393.8" y="1235.2" width="48.7" height="25.4" fill="#fff"/><rect x="447.1" y="1237.1" width="47.9" height="23.5" fill="#fff"/><rect x="499.7" y="1237.1" width="46.8" height="23.5" fill="#fff"/><rect x="551.1" y="1239.4" width="48.7" height="21.2" fill="#fff"/><rect x="604.4" y="1239.4" width="48.7" height="21.2" fill="#fff"/></g>
<rect x="126.85" y="1209.20" width="528.9" height="6.4" fill="#fff" opacity="0.75"/>
<rect x="126.85" y="1211.35" width="528.5" height="2.1" fill="#c6c6c6"/>
<rect x="126.85" y="1160.60" width="528.9" height="6.4" fill="#fff" opacity="0.75"/>
<rect x="126.85" y="1162.75" width="528.5" height="2.1" fill="#c6c6c6"/>
<rect x="126.85" y="1113.40" width="528.9" height="6.4" fill="#fff" opacity="0.75"/>
<rect x="126.85" y="1115.55" width="528.5" height="2.1" fill="#c6c6c6"/>
<rect x="126.85" y="1063.70" width="528.9" height="6.4" fill="#fff" opacity="0.75"/>
<rect x="126.85" y="1065.85" width="528.5" height="2.1" fill="#c6c6c6"/>
<rect x="126.85" y="1016.90" width="528.9" height="6.4" fill="#fff" opacity="0.75"/>
<rect x="126.85" y="1019.05" width="528.5" height="2.1" fill="#c6c6c6"/>
<rect x="126.85" y="968.20" width="528.9" height="6.4" fill="#fff" opacity="0.75"/>
<rect x="126.85" y="970.35" width="528.5" height="2.1" fill="#c6c6c6"/>
<rect x="133.5" y="1210.5" width="42.8" height="50.1" fill="#555"/>
<rect x="186.8" y="1024.8" width="43.2" height="235.8" fill="#555"/>
<rect x="239.8" y="1212.8" width="42.7" height="47.8" fill="#555"/>
<rect x="292.4" y="1226.8" width="41.6" height="33.8" fill="#555"/>
<rect x="343.4" y="1234.4" width="43.5" height="26.2" fill="#555"/>
<rect x="396.4" y="1237.8" width="43.5" height="22.8" fill="#555"/>
<rect x="449.7" y="1239.7" width="42.7" height="20.9" fill="#555"/>
<rect x="502.3" y="1239.7" width="41.6" height="20.9" fill="#555"/>
<rect x="553.7" y="1242.0" width="43.5" height="18.6" fill="#555"/>
<rect x="607.0" y="1242.0" width="43.5" height="18.6" fill="#555"/>
<rect x="126.85" y="922.10" width="528.9" height="3.6" fill="#fff" opacity="0.8"/>
<rect x="125.95" y="920.90" width="529.4" height="2.4" fill="#959595"/>
<rect x="125.95" y="921.10" width="1.8" height="340.7" fill="#8e8e8e"/>
<rect x="114.8" y="1258.60" width="8.9" height="2.1" fill="#333"/>
<text font-family='"Liberation Sans",sans-serif' font-size="21.04" fill="#3a3a3a" stroke="#3a3a3a" stroke-width="0.50" transform="translate(97.62,1267.67) scale(1.1598,1)">0</text>
<rect x="114.8" y="1211.40" width="8.9" height="2.1" fill="#333"/>
<text font-family='"Liberation Sans",sans-serif' font-size="21.04" fill="#3a3a3a" stroke="#3a3a3a" stroke-width="0.50" transform="translate(85.92,1220.47) scale(1.0782,1)">10</text>
<rect x="114.8" y="1162.80" width="8.9" height="2.1" fill="#333"/>
<text font-family='"Liberation Sans",sans-serif' font-size="21.04" fill="#3a3a3a" stroke="#3a3a3a" stroke-width="0.50" transform="translate(86.52,1171.87) scale(1.0518,1)">20</text>
<rect x="114.8" y="1115.60" width="8.9" height="2.1" fill="#333"/>
<text font-family='"Liberation Sans",sans-serif' font-size="21.04" fill="#3a3a3a" stroke="#3a3a3a" stroke-width="0.50" transform="translate(86.80,1124.67) scale(1.0391,1)">30</text>
<rect x="114.8" y="1065.90" width="8.9" height="2.1" fill="#333"/>
<text font-family='"Liberation Sans",sans-serif' font-size="21.04" fill="#3a3a3a" stroke="#3a3a3a" stroke-width="0.50" transform="translate(87.14,1074.97) scale(1.0242,1)">40</text>
<rect x="114.8" y="1019.10" width="8.9" height="2.1" fill="#333"/>
<text font-family='"Liberation Sans",sans-serif' font-size="21.04" fill="#3a3a3a" stroke="#3a3a3a" stroke-width="0.50" transform="translate(86.75,1028.17) scale(1.0416,1)">50</text>
<rect x="114.8" y="970.40" width="8.9" height="2.1" fill="#333"/>
<text font-family='"Liberation Sans",sans-serif' font-size="21.04" fill="#3a3a3a" stroke="#3a3a3a" stroke-width="0.50" transform="translate(86.52,979.47) scale(1.0518,1)">60</text>
<rect x="114.8" y="922.80" width="8.9" height="2.1" fill="#333"/>
<text font-family='"Liberation Sans",sans-serif' font-size="21.04" fill="#3a3a3a" stroke="#3a3a3a" stroke-width="0.50" transform="translate(86.52,931.87) scale(1.0518,1)">70</text>
<rect x="127.30" y="1265.1" width="2" height="8.3" fill="#333"/>
<text font-family='"Liberation Sans",sans-serif' font-size="20.49" fill="#3a3a3a" stroke="#3a3a3a" stroke-width="0.50" transform="translate(107.35,1296.95) scale(1.0045,1)">1.53</text>
<rect x="166.60" y="1265.1" width="2" height="8.3" fill="#333"/>
<rect x="263.80" y="1265.1" width="2" height="8.3" fill="#333"/>
<text font-family='"Liberation Sans",sans-serif' font-size="20.49" fill="#3a3a3a" stroke="#3a3a3a" stroke-width="0.50" transform="translate(249.42,1296.95) scale(1.0142,1)">1.6</text>
<rect x="362.50" y="1265.1" width="2" height="8.3" fill="#333"/>
<text font-family='"Liberation Sans",sans-serif' font-size="20.49" fill="#3a3a3a" stroke="#3a3a3a" stroke-width="0.50" transform="translate(343.13,1296.95) scale(0.9744,1)">1.65</text>
<rect x="458.20" y="1265.1" width="2" height="8.3" fill="#333"/>
<text font-family='"Liberation Sans",sans-serif' font-size="21.09" fill="#3a3a3a" stroke="#3a3a3a" stroke-width="0.50" transform="translate(443.81,1297.15) scale(0.9914,1)">1.7</text>
<rect x="558.00" y="1265.1" width="2" height="8.3" fill="#333"/>
<text font-family='"Liberation Sans",sans-serif' font-size="20.79" fill="#3a3a3a" stroke="#3a3a3a" stroke-width="0.50" transform="translate(538.05,1296.94) scale(0.9889,1)">1.75</text>
<rect x="654.40" y="1265.1" width="2" height="8.3" fill="#333"/>
<text font-family='"Liberation Sans",sans-serif' font-size="20.49" fill="#3a3a3a" stroke="#3a3a3a" stroke-width="0.50" transform="translate(639.96,1296.95) scale(1.0180,1)">1.8</text>
<text font-family='"Liberation Sans",sans-serif' font-size="18.16" fill="#222" stroke="#222" stroke-width="0.55" transform="translate(333.73,1326.04) scale(1.1632,1)">MNs/m</text>
<text font-family='"Liberation Sans",sans-serif' font-size="11.31" fill="#333" stroke="#333" stroke-width="0.40" transform="translate(401.95,1319.79) scale(1.0613,1)">3</text>
<text font-family='"Liberation Sans",sans-serif' font-size="18.76" fill="#222" stroke="#222" stroke-width="0.55" transform="translate(75.33,1159.95) rotate(-90) scale(1.1457,1)">frequency</text>
<rect x="873.3" y="911.4" width="552.8" height="357.2" fill="#fafafa"/>
<g filter="url(#halo)" opacity="0.9"><rect x="877.5" y="1186.5" width="50.0" height="82.1" fill="#fff"/><rect x="932.5" y="1061.1" width="50.6" height="207.5" fill="#fff"/><rect x="988.1" y="1159.2" width="50.6" height="109.4" fill="#fff"/><rect x="1043.7" y="1211.0" width="47.6" height="57.6" fill="#fff"/><rect x="1097.0" y="1250.7" width="49.5" height="17.9" fill="#fff"/><rect x="1151.9" y="1252.6" width="50.6" height="16.0" fill="#fff"/><rect x="1207.5" y="1254.5" width="50.6" height="14.1" fill="#fff"/><rect x="1263.1" y="1254.5" width="49.8" height="14.1" fill="#fff"/><rect x="1317.9" y="1254.5" width="48.7" height="14.1" fill="#fff"/><rect x="1372.0" y="1256.0" width="50.6" height="12.6" fill="#fff"/></g>
<rect x="873.3" y="1214.60" width="552.8" height="6.4" fill="#fff" opacity="0.75"/>
<rect x="873.3" y="1216.75" width="552.4" height="2.1" fill="#c6c6c6"/>
<rect x="873.3" y="1163.20" width="552.8" height="6.4" fill="#fff" opacity="0.75"/>
<rect x="873.3" y="1165.35" width="552.4" height="2.1" fill="#c6c6c6"/>
<rect x="873.3" y="1113.60" width="552.8" height="6.4" fill="#fff" opacity="0.75"/>
<rect x="873.3" y="1115.75" width="552.4" height="2.1" fill="#c6c6c6"/>
<rect x="873.3" y="1061.00" width="552.8" height="6.4" fill="#fff" opacity="0.75"/>
<rect x="873.3" y="1063.15" width="552.4" height="2.1" fill="#c6c6c6"/>
<rect x="873.3" y="1011.20" width="552.8" height="6.4" fill="#fff" opacity="0.75"/>
<rect x="873.3" y="1013.35" width="552.4" height="2.1" fill="#c6c6c6"/>
<rect x="873.3" y="960.00" width="552.8" height="6.4" fill="#fff" opacity="0.75"/>
<rect x="873.3" y="962.15" width="552.4" height="2.1" fill="#c6c6c6"/>
<rect x="880.1" y="1189.1" width="44.8" height="79.5" fill="#555"/>
<rect x="935.1" y="1063.7" width="45.4" height="204.9" fill="#555"/>
<rect x="990.7" y="1161.8" width="45.4" height="106.8" fill="#555"/>
<rect x="1046.3" y="1213.6" width="42.4" height="55.0" fill="#555"/>
<rect x="1099.6" y="1253.3" width="44.3" height="15.3" fill="#555"/>
<rect x="1154.5" y="1255.2" width="45.4" height="13.4" fill="#555"/>
<rect x="1210.1" y="1257.1" width="45.4" height="11.5" fill="#555"/>
<rect x="1265.7" y="1257.1" width="44.6" height="11.5" fill="#555"/>
<rect x="1320.5" y="1257.1" width="43.5" height="11.5" fill="#555"/>
<rect x="1374.6" y="1258.6" width="45.4" height="10.0" fill="#555"/>
<rect x="873.3" y="911.40" width="552.8" height="3.6" fill="#fff" opacity="0.8"/>
<rect x="872.40" y="910.20" width="553.3" height="2.4" fill="#959595"/>
<rect x="872.40" y="910.40" width="1.8" height="359.4" fill="#8e8e8e"/>
<rect x="860.5" y="1266.70" width="9.2" height="2.1" fill="#333"/>
<text font-family='"Liberation Sans",sans-serif' font-size="21.93" fill="#3a3a3a" stroke="#3a3a3a" stroke-width="0.50" transform="translate(842.78,1276.10) scale(1.1602,1)">0</text>
<rect x="860.5" y="1216.80" width="9.2" height="2.1" fill="#333"/>
<text font-family='"Liberation Sans",sans-serif' font-size="21.93" fill="#3a3a3a" stroke="#3a3a3a" stroke-width="0.50" transform="translate(830.61,1226.20) scale(1.0777,1)">10</text>
<rect x="860.5" y="1165.40" width="9.2" height="2.1" fill="#333"/>
<text font-family='"Liberation Sans",sans-serif' font-size="21.93" fill="#3a3a3a" stroke="#3a3a3a" stroke-width="0.50" transform="translate(831.23,1174.80) scale(1.0513,1)">20</text>
<rect x="860.5" y="1115.80" width="9.2" height="2.1" fill="#333"/>
<text font-family='"Liberation Sans",sans-serif' font-size="21.93" fill="#3a3a3a" stroke="#3a3a3a" stroke-width="0.50" transform="translate(831.52,1125.20) scale(1.0386,1)">30</text>
<rect x="860.5" y="1063.20" width="9.2" height="2.1" fill="#333"/>
<text font-family='"Liberation Sans",sans-serif' font-size="21.93" fill="#3a3a3a" stroke="#3a3a3a" stroke-width="0.50" transform="translate(831.87,1072.60) scale(1.0238,1)">40</text>
<rect x="860.5" y="1013.40" width="9.2" height="2.1" fill="#333"/>
<text font-family='"Liberation Sans",sans-serif' font-size="21.93" fill="#3a3a3a" stroke="#3a3a3a" stroke-width="0.50" transform="translate(831.46,1022.80) scale(1.0411,1)">50</text>
<rect x="860.5" y="962.20" width="9.2" height="2.1" fill="#333"/>
<text font-family='"Liberation Sans",sans-serif' font-size="21.93" fill="#3a3a3a" stroke="#3a3a3a" stroke-width="0.50" transform="translate(831.23,971.60) scale(1.0513,1)">60</text>
<rect x="860.5" y="912.50" width="9.2" height="2.1" fill="#333"/>
<text font-family='"Liberation Sans",sans-serif' font-size="21.93" fill="#3a3a3a" stroke="#3a3a3a" stroke-width="0.50" transform="translate(831.23,921.90) scale(1.0513,1)">70</text>
<rect x="874.00" y="1272.8" width="2" height="9.6" fill="#333"/>
<text font-family='"Liberation Sans",sans-serif' font-size="21.91" fill="#3a3a3a" stroke="#3a3a3a" stroke-width="0.50" transform="translate(853.20,1306.83) scale(0.9785,1)">1.53</text>
<rect x="914.90" y="1272.8" width="2" height="9.6" fill="#333"/>
<rect x="1016.20" y="1272.8" width="2" height="9.6" fill="#333"/>
<text font-family='"Liberation Sans",sans-serif' font-size="21.91" fill="#3a3a3a" stroke="#3a3a3a" stroke-width="0.50" transform="translate(1001.20,1306.83) scale(0.9882,1)">1.6</text>
<rect x="1118.30" y="1272.8" width="2" height="9.6" fill="#333"/>
<text font-family='"Liberation Sans",sans-serif' font-size="21.91" fill="#3a3a3a" stroke="#3a3a3a" stroke-width="0.50" transform="translate(1098.11,1306.83) scale(0.9492,1)">1.65</text>
<rect x="1219.70" y="1272.8" width="2" height="9.6" fill="#333"/>
<text font-family='"Liberation Sans",sans-serif' font-size="22.55" fill="#3a3a3a" stroke="#3a3a3a" stroke-width="0.50" transform="translate(1204.69,1307.05) scale(0.9660,1)">1.7</text>
<rect x="1321.80" y="1272.8" width="2" height="9.6" fill="#333"/>
<text font-family='"Liberation Sans",sans-serif' font-size="22.22" fill="#3a3a3a" stroke="#3a3a3a" stroke-width="0.50" transform="translate(1301.01,1306.83) scale(0.9634,1)">1.75</text>
<rect x="1423.50" y="1272.8" width="2" height="9.6" fill="#333"/>
<text font-family='"Liberation Sans",sans-serif' font-size="21.91" fill="#3a3a3a" stroke="#3a3a3a" stroke-width="0.50" transform="translate(1408.44,1306.83) scale(0.9919,1)">1.8</text>
<text font-family='"Liberation Sans",sans-serif' font-size="19.12" fill="#222" stroke="#222" stroke-width="0.55" transform="translate(1088.96,1335.13) scale(1.1520,1)">MNs/m</text>
<text font-family='"Liberation Sans",sans-serif' font-size="11.87" fill="#333" stroke="#333" stroke-width="0.40" transform="translate(1160.03,1328.48) scale(1.0462,1)">3</text>
<text font-family='"Liberation Sans",sans-serif' font-size="19.62" fill="#222" stroke="#222" stroke-width="0.55" transform="translate(818.45,1154.24) rotate(-90) scale(1.0733,1)">frequency</text>
<g clip-path="url(#clipA)"><g filter="url(#jet)">
<rect x="62.599999999999994" y="-26.0" width="423.2" height="233.3" fill="rgb(88,88,88)"/>
<g style="mix-blend-mode:lighten"><ellipse cx="318.7" cy="16.7" rx="62.2" ry="11.7" fill="rgb(98,98,98)" filter="url(#fb95_7_00)"/></g>
<g style="mix-blend-mode:lighten"><ellipse cx="410.1" cy="26.4" rx="38.9" ry="15.6" fill="rgb(96,96,96)" filter="url(#fb95_7_00)"/></g>
<g><ellipse cx="133.9" cy="82.8" rx="37.0" ry="29.2" fill="rgb(74,74,74)" filter="url(#fb95_9_00)"/></g>
<g><ellipse cx="100.8" cy="69.2" rx="17.5" ry="23.3" fill="rgb(76,76,76)" filter="url(#fb95_7_00)"/></g>
<g><ellipse cx="412.0" cy="69.2" rx="29.2" ry="27.2" fill="rgb(79,79,79)" filter="url(#fb95_9_00)"/></g>
<g style="mix-blend-mode:lighten" stroke-linejoin="miter" filter="url(#fb95_3_50)"><use href="#o5_95" fill="rgb(88,88,88)" stroke="rgb(88,88,88)" stroke-width="116.0"/><use href="#o5_95" fill="rgb(89,89,89)" stroke="rgb(89,89,89)" stroke-width="113.0"/><use href="#o5_95" fill="rgb(90,90,90)" stroke="rgb(90,90,90)" stroke-width="110.0"/><use href="#o5_95" fill="rgb(91,91,91)" stroke="rgb(91,91,91)" stroke-width="107.0"/><use href="#o5_95" fill="rgb(92,92,92)" stroke="rgb(92,92,92)" stroke-width="104.0"/><use href="#o5_95" fill="rgb(94,94,94)" stroke="rgb(94,94,94)" stroke-width="101.0"/><use href="#o5_95" fill="rgb(96,96,96)" stroke="rgb(96,96,96)" stroke-width="98.0"/><use href="#o5_95" fill="rgb(98,98,98)" stroke="rgb(98,98,98)" stroke-width="95.0"/><use href="#o5_95" fill="rgb(99,99,99)" stroke="rgb(99,99,99)" stroke-width="92.0"/><use href="#o5_95" fill="rgb(101,101,101)" stroke="rgb(101,101,101)" stroke-width="89.0"/><use href="#o5_95" fill="rgb(103,103,103)" stroke="rgb(103,103,103)" stroke-width="86.0"/><use href="#o5_95" fill="rgb(105,105,105)" stroke="rgb(105,105,105)" stroke-width="83.0"/><use href="#o5_95" fill="rgb(106,106,106)" stroke="rgb(106,106,106)" stroke-width="80.0"/><use href="#o5_95" fill="rgb(108,108,108)" stroke="rgb(108,108,108)" stroke-width="77.0"/><use href="#o5_95" fill="rgb(110,110,110)" stroke="rgb(110,110,110)" stroke-width="74.0"/><use href="#o5_95" fill="rgb(111,111,111)" stroke="rgb(111,111,111)" stroke-width="71.0"/><use href="#o5_95" fill="rgb(113,113,113)" stroke="rgb(113,113,113)" stroke-width="68.0"/><use href="#o5_95" fill="rgb(115,115,115)" stroke="rgb(115,115,115)" stroke-width="65.0"/><use href="#o5_95" fill="rgb(116,116,116)" stroke="rgb(116,116,116)" stroke-width="62.0"/><use href="#o5_95" fill="rgb(118,118,118)" stroke="rgb(118,118,118)" stroke-width="59.0"/><use href="#o5_95" fill="rgb(120,120,120)" stroke="rgb(120,120,120)" stroke-width="56.0"/><use href="#o5_95" fill="rgb(121,121,121)" stroke="rgb(121,121,121)" stroke-width="53.0"/><use href="#o5_95" fill="rgb(123,123,123)" stroke="rgb(123,123,123)" stroke-width="50.0"/><use href="#o5_95" fill="rgb(125,125,125)" stroke="rgb(125,125,125)" stroke-width="47.0"/><use href="#o5_95" fill="rgb(126,126,126)" stroke="rgb(126,126,126)" stroke-width="44.0"/><use href="#o5_95" fill="rgb(128,128,128)" stroke="rgb(128,128,128)" stroke-width="41.0"/><use href="#o5_95" fill="rgb(130,130,130)" stroke="rgb(130,130,130)" stroke-width="38.0"/><use href="#o5_95" fill="rgb(131,131,131)" stroke="rgb(131,131,131)" stroke-width="35.0"/><use href="#o5_95" fill="rgb(133,133,133)" stroke="rgb(133,133,133)" stroke-width="32.0"/><use href="#o5_95" fill="rgb(135,135,135)" stroke="rgb(135,135,135)" stroke-width="29.0"/><use href="#o5_95" fill="rgb(137,137,137)" stroke="rgb(137,137,137)" stroke-width="26.0"/><use href="#o5_95" fill="rgb(140,140,140)" stroke="rgb(140,140,140)" stroke-width="23.0"/><use href="#o5_95" fill="rgb(143,143,143)" stroke="rgb(143,143,143)" stroke-width="20.0"/><use href="#o5_95" fill="rgb(146,146,146)" stroke="rgb(146,146,146)" stroke-width="17.0"/><use href="#o5_95" fill="rgb(149,149,149)" stroke="rgb(149,149,149)" stroke-width="14.0"/><use href="#o5_95" fill="rgb(152,152,152)" stroke="rgb(152,152,152)" stroke-width="11.0"/><use href="#o5_95" fill="rgb(154,154,154)" stroke="rgb(154,154,154)" stroke-width="8.0"/><use href="#o5_95" fill="rgb(157,157,157)" stroke="rgb(157,157,157)" stroke-width="5.0"/><use href="#o5_95" fill="rgb(159,159,159)" stroke="rgb(159,159,159)" stroke-width="2.0"/><use href="#o5_95" fill="rgb(161,161,161)"/></g>
<g style="mix-blend-mode:lighten"><path d="M246.7,152.8 C231.8,149.2 250.9,136.4 254.5,131.4 C258.0,126.4 262.3,124.6 268.1,122.7 C273.9,120.7 281.4,119.9 289.5,119.7 C297.6,119.6 309.3,120.1 316.7,121.7 C324.2,123.3 329.7,124.3 334.2,129.5 C338.8,134.7 358.5,148.9 343.9,152.8 C329.4,156.7 261.6,156.4 246.7,152.8Z" fill="rgb(178,178,178)" filter="url(#fb95_4_00)"/></g>
<g style="mix-blend-mode:lighten"><ellipse cx="106.7" cy="121.7" rx="25.3" ry="8.8" fill="rgb(115,115,115)" filter="url(#fb95_4_00)"/></g>
<g style="mix-blend-mode:lighten" filter="url(#fb95_0_80)"><path transform="translate(0,-24.00)" d="M83.3,137.6 C86.6,137.6 91.1,137.1 102.8,137.3 C114.4,137.4 136.8,138.7 153.3,138.4 C169.9,138.2 189.0,136.5 202.0,135.7 C214.9,134.9 222.1,134.1 231.1,133.4 C240.2,132.6 246.7,131.7 256.4,131.4 C266.1,131.2 277.5,131.6 289.5,131.8 C301.5,132.0 317.0,132.3 328.4,132.8 C339.7,133.3 347.8,134.2 357.6,134.9 C367.3,135.6 377.0,136.3 386.7,136.9 C396.5,137.4 406.0,137.8 415.9,138.0 C425.8,138.3 437.9,138.4 446.1,138.4 C454.2,138.5 461.4,138.4 464.5,138.4 L464.5,197.4 L83.3,197.4Z" fill="rgb(87,87,87)"/><path transform="translate(0,-23.00)" d="M83.3,137.6 C86.6,137.6 91.1,137.1 102.8,137.3 C114.4,137.4 136.8,138.7 153.3,138.4 C169.9,138.2 189.0,136.5 202.0,135.7 C214.9,134.9 222.1,134.1 231.1,133.4 C240.2,132.6 246.7,131.7 256.4,131.4 C266.1,131.2 277.5,131.6 289.5,131.8 C301.5,132.0 317.0,132.3 328.4,132.8 C339.7,133.3 347.8,134.2 357.6,134.9 C367.3,135.6 377.0,136.3 386.7,136.9 C396.5,137.4 406.0,137.8 415.9,138.0 C425.8,138.3 437.9,138.4 446.1,138.4 C454.2,138.5 461.4,138.4 464.5,138.4 L464.5,197.4 L83.3,197.4Z" fill="rgb(90,90,90)"/><path transform="translate(0,-22.00)" d="M83.3,137.6 C86.6,137.6 91.1,137.1 102.8,137.3 C114.4,137.4 136.8,138.7 153.3,138.4 C169.9,138.2 189.0,136.5 202.0,135.7 C214.9,134.9 222.1,134.1 231.1,133.4 C240.2,132.6 246.7,131.7 256.4,131.4 C266.1,131.2 277.5,131.6 289.5,131.8 C301.5,132.0 317.0,132.3 328.4,132.8 C339.7,133.3 347.8,134.2 357.6,134.9 C367.3,135.6 377.0,136.3 386.7,136.9 C396.5,137.4 406.0,137.8 415.9,138.0 C425.8,138.3 437.9,138.4 446.1,138.4 C454.2,138.5 461.4,138.4 464.5,138.4 L464.5,197.4 L83.3,197.4Z" fill="rgb(93,93,93)"/><path transform="translate(0,-21.00)" d="M83.3,137.6 C86.6,137.6 91.1,137.1 102.8,137.3 C114.4,137.4 136.8,138.7 153.3,138.4 C169.9,138.2 189.0,136.5 202.0,135.7 C214.9,134.9 222.1,134.1 231.1,133.4 C240.2,132.6 246.7,131.7 256.4,131.4 C266.1,131.2 277.5,131.6 289.5,131.8 C301.5,132.0 317.0,132.3 328.4,132.8 C339.7,133.3 347.8,134.2 357.6,134.9 C367.3,135.6 377.0,136.3 386.7,136.9 C396.5,137.4 406.0,137.8 415.9,138.0 C425.8,138.3 437.9,138.4 446.1,138.4 C454.2,138.5 461.4,138.4 464.5,138.4 L464.5,197.4 L83.3,197.4Z" fill="rgb(96,96,96)"/><path transform="translate(0,-20.00)" d="M83.3,137.6 C86.6,137.6 91.1,137.1 102.8,137.3 C114.4,137.4 136.8,138.7 153.3,138.4 C169.9,138.2 189.0,136.5 202.0,135.7 C214.9,134.9 222.1,134.1 231.1,133.4 C240.2,132.6 246.7,131.7 256.4,131.4 C266.1,131.2 277.5,131.6 289.5,131.8 C301.5,132.0 317.0,132.3 328.4,132.8 C339.7,133.3 347.8,134.2 357.6,134.9 C367.3,135.6 377.0,136.3 386.7,136.9 C396.5,137.4 406.0,137.8 415.9,138.0 C425.8,138.3 437.9,138.4 446.1,138.4 C454.2,138.5 461.4,138.4 464.5,138.4 L464.5,197.4 L83.3,197.4Z" fill="rgb(99,99,99)"/><path transform="translate(0,-19.00)" d="M83.3,137.6 C86.6,137.6 91.1,137.1 102.8,137.3 C114.4,137.4 136.8,138.7 153.3,138.4 C169.9,138.2 189.0,136.5 202.0,135.7 C214.9,134.9 222.1,134.1 231.1,133.4 C240.2,132.6 246.7,131.7 256.4,131.4 C266.1,131.2 277.5,131.6 289.5,131.8 C301.5,132.0 317.0,132.3 328.4,132.8 C339.7,133.3 347.8,134.2 357.6,134.9 C367.3,135.6 377.0,136.3 386.7,136.9 C396.5,137.4 406.0,137.8 415.9,138.0 C425.8,138.3 437.9,138.4 446.1,138.4 C454.2,138.5 461.4,138.4 464.5,138.4 L464.5,197.4 L83.3,197.4Z" fill="rgb(105,105,105)"/><path transform="translate(0,-18.00)" d="M83.3,137.6 C86.6,137.6 91.1,137.1 102.8,137.3 C114.4,137.4 136.8,138.7 153.3,138.4 C169.9,138.2 189.0,136.5 202.0,135.7 C214.9,134.9 222.1,134.1 231.1,133.4 C240.2,132.6 246.7,131.7 256.4,131.4 C266.1,131.2 277.5,131.6 289.5,131.8 C301.5,132.0 317.0,132.3 328.4,132.8 C339.7,133.3 347.8,134.2 357.6,134.9 C367.3,135.6 377.0,136.3 386.7,136.9 C396.5,137.4 406.0,137.8 415.9,138.0 C425.8,138.3 437.9,138.4 446.1,138.4 C454.2,138.5 461.4,138.4 464.5,138.4 L464.5,197.4 L83.3,197.4Z" fill="rgb(110,110,110)"/><path transform="translate(0,-17.00)" d="M83.3,137.6 C86.6,137.6 91.1,137.1 102.8,137.3 C114.4,137.4 136.8,138.7 153.3,138.4 C169.9,138.2 189.0,136.5 202.0,135.7 C214.9,134.9 222.1,134.1 231.1,133.4 C240.2,132.6 246.7,131.7 256.4,131.4 C266.1,131.2 277.5,131.6 289.5,131.8 C301.5,132.0 317.0,132.3 328.4,132.8 C339.7,133.3 347.8,134.2 357.6,134.9 C367.3,135.6 377.0,136.3 386.7,136.9 C396.5,137.4 406.0,137.8 415.9,138.0 C425.8,138.3 437.9,138.4 446.1,138.4 C454.2,138.5 461.4,138.4 464.5,138.4 L464.5,197.4 L83.3,197.4Z" fill="rgb(115,115,115)"/><path transform="translate(0,-16.00)" d="M83.3,137.6 C86.6,137.6 91.1,137.1 102.8,137.3 C114.4,137.4 136.8,138.7 153.3,138.4 C169.9,138.2 189.0,136.5 202.0,135.7 C214.9,134.9 222.1,134.1 231.1,133.4 C240.2,132.6 246.7,131.7 256.4,131.4 C266.1,131.2 277.5,131.6 289.5,131.8 C301.5,132.0 317.0,132.3 328.4,132.8 C339.7,133.3 347.8,134.2 357.6,134.9 C367.3,135.6 377.0,136.3 386.7,136.9 C396.5,137.4 406.0,137.8 415.9,138.0 C425.8,138.3 437.9,138.4 446.1,138.4 C454.2,138.5 461.4,138.4 464.5,138.4 L464.5,197.4 L83.3,197.4Z" fill="rgb(120,120,120)"/><path transform="translate(0,-15.00)" d="M83.3,137.6 C86.6,137.6 91.1,137.1 102.8,137.3 C114.4,137.4 136.8,138.7 153.3,138.4 C169.9,138.2 189.0,136.5 202.0,135.7 C214.9,134.9 222.1,134.1 231.1,133.4 C240.2,132.6 246.7,131.7 256.4,131.4 C266.1,131.2 277.5,131.6 289.5,131.8 C301.5,132.0 317.0,132.3 328.4,132.8 C339.7,133.3 347.8,134.2 357.6,134.9 C367.3,135.6 377.0,136.3 386.7,136.9 C396.5,137.4 406.0,137.8 415.9,138.0 C425.8,138.3 437.9,138.4 446.1,138.4 C454.2,138.5 461.4,138.4 464.5,138.4 L464.5,197.4 L83.3,197.4Z" fill="rgb(127,127,127)"/><path transform="translate(0,-14.00)" d="M83.3,137.6 C86.6,137.6 91.1,137.1 102.8,137.3 C114.4,137.4 136.8,138.7 153.3,138.4 C169.9,138.2 189.0,136.5 202.0,135.7 C214.9,134.9 222.1,134.1 231.1,133.4 C240.2,132.6 246.7,131.7 256.4,131.4 C266.1,131.2 277.5,131.6 289.5,131.8 C301.5,132.0 317.0,132.3 328.4,132.8 C339.7,133.3 347.8,134.2 357.6,134.9 C367.3,135.6 377.0,136.3 386.7,136.9 C396.5,137.4 406.0,137.8 415.9,138.0 C425.8,138.3 437.9,138.4 446.1,138.4 C454.2,138.5 461.4,138.4 464.5,138.4 L464.5,197.4 L83.3,197.4Z" fill="rgb(134,134,134)"/><path transform="translate(0,-13.00)" d="M83.3,137.6 C86.6,137.6 91.1,137.1 102.8,137.3 C114.4,137.4 136.8,138.7 153.3,138.4 C169.9,138.2 189.0,136.5 202.0,135.7 C214.9,134.9 222.1,134.1 231.1,133.4 C240.2,132.6 246.7,131.7 256.4,131.4 C266.1,131.2 277.5,131.6 289.5,131.8 C301.5,132.0 317.0,132.3 328.4,132.8 C339.7,133.3 347.8,134.2 357.6,134.9 C367.3,135.6 377.0,136.3 386.7,136.9 C396.5,137.4 406.0,137.8 415.9,138.0 C425.8,138.3 437.9,138.4 446.1,138.4 C454.2,138.5 461.4,138.4 464.5,138.4 L464.5,197.4 L83.3,197.4Z" fill="rgb(141,141,141)"/><path transform="translate(0,-12.00)" d="M83.3,137.6 C86.6,137.6 91.1,137.1 102.8,137.3 C114.4,137.4 136.8,138.7 153.3,138.4 C169.9,138.2 189.0,136.5 202.0,135.7 C214.9,134.9 222.1,134.1 231.1,133.4 C240.2,132.6 246.7,131.7 256.4,131.4 C266.1,131.2 277.5,131.6 289.5,131.8 C301.5,132.0 317.0,132.3 328.4,132.8 C339.7,133.3 347.8,134.2 357.6,134.9 C367.3,135.6 377.0,136.3 386.7,136.9 C396.5,137.4 406.0,137.8 415.9,138.0 C425.8,138.3 437.9,138.4 446.1,138.4 C454.2,138.5 461.4,138.4 464.5,138.4 L464.5,197.4 L83.3,197.4Z" fill="rgb(148,148,148)"/><path transform="translate(0,-11.00)" d="M83.3,137.6 C86.6,137.6 91.1,137.1 102.8,137.3 C114.4,137.4 136.8,138.7 153.3,138.4 C169.9,138.2 189.0,136.5 202.0,135.7 C214.9,134.9 222.1,134.1 231.1,133.4 C240.2,132.6 246.7,131.7 256.4,131.4 C266.1,131.2 277.5,131.6 289.5,131.8 C301.5,132.0 317.0,132.3 328.4,132.8 C339.7,133.3 347.8,134.2 357.6,134.9 C367.3,135.6 377.0,136.3 386.7,136.9 C396.5,137.4 406.0,137.8 415.9,138.0 C425.8,138.3 437.9,138.4 446.1,138.4 C454.2,138.5 461.4,138.4 464.5,138.4 L464.5,197.4 L83.3,197.4Z" fill="rgb(155,155,155)"/><path transform="translate(0,-10.00)" d="M83.3,137.6 C86.6,137.6 91.1,137.1 102.8,137.3 C114.4,137.4 136.8,138.7 153.3,138.4 C169.9,138.2 189.0,136.5 202.0,135.7 C214.9,134.9 222.1,134.1 231.1,133.4 C240.2,132.6 246.7,131.7 256.4,131.4 C266.1,131.2 277.5,131.6 289.5,131.8 C301.5,132.0 317.0,132.3 328.4,132.8 C339.7,133.3 347.8,134.2 357.6,134.9 C367.3,135.6 377.0,136.3 386.7,136.9 C396.5,137.4 406.0,137.8 415.9,138.0 C425.8,138.3 437.9,138.4 446.1,138.4 C454.2,138.5 461.4,138.4 464.5,138.4 L464.5,197.4 L83.3,197.4Z" fill="rgb(162,162,162)"/><path transform="translate(0,-9.00)" d="M83.3,137.6 C86.6,137.6 91.1,137.1 102.8,137.3 C114.4,137.4 136.8,138.7 153.3,138.4 C169.9,138.2 189.0,136.5 202.0,135.7 C214.9,134.9 222.1,134.1 231.1,133.4 C240.2,132.6 246.7,131.7 256.4,131.4 C266.1,131.2 277.5,131.6 289.5,131.8 C301.5,132.0 317.0,132.3 328.4,132.8 C339.7,133.3 347.8,134.2 357.6,134.9 C367.3,135.6 377.0,136.3 386.7,136.9 C396.5,137.4 406.0,137.8 415.9,138.0 C425.8,138.3 437.9,138.4 446.1,138.4 C454.2,138.5 461.4,138.4 464.5,138.4 L464.5,197.4 L83.3,197.4Z" fill="rgb(168,168,168)"/><path transform="translate(0,-8.00)" d="M83.3,137.6 C86.6,137.6 91.1,137.1 102.8,137.3 C114.4,137.4 136.8,138.7 153.3,138.4 C169.9,138.2 189.0,136.5 202.0,135.7 C214.9,134.9 222.1,134.1 231.1,133.4 C240.2,132.6 246.7,131.7 256.4,131.4 C266.1,131.2 277.5,131.6 289.5,131.8 C301.5,132.0 317.0,132.3 328.4,132.8 C339.7,133.3 347.8,134.2 357.6,134.9 C367.3,135.6 377.0,136.3 386.7,136.9 C396.5,137.4 406.0,137.8 415.9,138.0 C425.8,138.3 437.9,138.4 446.1,138.4 C454.2,138.5 461.4,138.4 464.5,138.4 L464.5,197.4 L83.3,197.4Z" fill="rgb(175,175,175)"/><path transform="translate(0,-7.00)" d="M83.3,137.6 C86.6,137.6 91.1,137.1 102.8,137.3 C114.4,137.4 136.8,138.7 153.3,138.4 C169.9,138.2 189.0,136.5 202.0,135.7 C214.9,134.9 222.1,134.1 231.1,133.4 C240.2,132.6 246.7,131.7 256.4,131.4 C266.1,131.2 277.5,131.6 289.5,131.8 C301.5,132.0 317.0,132.3 328.4,132.8 C339.7,133.3 347.8,134.2 357.6,134.9 C367.3,135.6 377.0,136.3 386.7,136.9 C396.5,137.4 406.0,137.8 415.9,138.0 C425.8,138.3 437.9,138.4 446.1,138.4 C454.2,138.5 461.4,138.4 464.5,138.4 L464.5,197.4 L83.3,197.4Z" fill="rgb(182,182,182)"/><path transform="translate(0,-6.00)" d="M83.3,137.6 C86.6,137.6 91.1,137.1 102.8,137.3 C114.4,137.4 136.8,138.7 153.3,138.4 C169.9,138.2 189.0,136.5 202.0,135.7 C214.9,134.9 222.1,134.1 231.1,133.4 C240.2,132.6 246.7,131.7 256.4,131.4 C266.1,131.2 277.5,131.6 289.5,131.8 C301.5,132.0 317.0,132.3 328.4,132.8 C339.7,133.3 347.8,134.2 357.6,134.9 C367.3,135.6 377.0,136.3 386.7,136.9 C396.5,137.4 406.0,137.8 415.9,138.0 C425.8,138.3 437.9,138.4 446.1,138.4 C454.2,138.5 461.4,138.4 464.5,138.4 L464.5,197.4 L83.3,197.4Z" fill="rgb(189,189,189)"/><path transform="translate(0,-5.00)" d="M83.3,137.6 C86.6,137.6 91.1,137.1 102.8,137.3 C114.4,137.4 136.8,138.7 153.3,138.4 C169.9,138.2 189.0,136.5 202.0,135.7 C214.9,134.9 222.1,134.1 231.1,133.4 C240.2,132.6 246.7,131.7 256.4,131.4 C266.1,131.2 277.5,131.6 289.5,131.8 C301.5,132.0 317.0,132.3 328.4,132.8 C339.7,133.3 347.8,134.2 357.6,134.9 C367.3,135.6 377.0,136.3 386.7,136.9 C396.5,137.4 406.0,137.8 415.9,138.0 C425.8,138.3 437.9,138.4 446.1,138.4 C454.2,138.5 461.4,138.4 464.5,138.4 L464.5,197.4 L83.3,197.4Z" fill="rgb(200,200,200)"/><path transform="translate(0,-4.00)" d="M83.3,137.6 C86.6,137.6 91.1,137.1 102.8,137.3 C114.4,137.4 136.8,138.7 153.3,138.4 C169.9,138.2 189.0,136.5 202.0,135.7 C214.9,134.9 222.1,134.1 231.1,133.4 C240.2,132.6 246.7,131.7 256.4,131.4 C266.1,131.2 277.5,131.6 289.5,131.8 C301.5,132.0 317.0,132.3 328.4,132.8 C339.7,133.3 347.8,134.2 357.6,134.9 C367.3,135.6 377.0,136.3 386.7,136.9 C396.5,137.4 406.0,137.8 415.9,138.0 C425.8,138.3 437.9,138.4 446.1,138.4 C454.2,138.5 461.4,138.4 464.5,138.4 L464.5,197.4 L83.3,197.4Z" fill="rgb(211,211,211)"/><path transform="translate(0,-3.00)" d="M83.3,137.6 C86.6,137.6 91.1,137.1 102.8,137.3 C114.4,137.4 136.8,138.7 153.3,138.4 C169.9,138.2 189.0,136.5 202.0,135.7 C214.9,134.9 222.1,134.1 231.1,133.4 C240.2,132.6 246.7,131.7 256.4,131.4 C266.1,131.2 277.5,131.6 289.5,131.8 C301.5,132.0 317.0,132.3 328.4,132.8 C339.7,133.3 347.8,134.2 357.6,134.9 C367.3,135.6 377.0,136.3 386.7,136.9 C396.5,137.4 406.0,137.8 415.9,138.0 C425.8,138.3 437.9,138.4 446.1,138.4 C454.2,138.5 461.4,138.4 464.5,138.4 L464.5,197.4 L83.3,197.4Z" fill="rgb(222,222,222)"/><path transform="translate(0,-2.00)" d="M83.3,137.6 C86.6,137.6 91.1,137.1 102.8,137.3 C114.4,137.4 136.8,138.7 153.3,138.4 C169.9,138.2 189.0,136.5 202.0,135.7 C214.9,134.9 222.1,134.1 231.1,133.4 C240.2,132.6 246.7,131.7 256.4,131.4 C266.1,131.2 277.5,131.6 289.5,131.8 C301.5,132.0 317.0,132.3 328.4,132.8 C339.7,133.3 347.8,134.2 357.6,134.9 C367.3,135.6 377.0,136.3 386.7,136.9 C396.5,137.4 406.0,137.8 415.9,138.0 C425.8,138.3 437.9,138.4 446.1,138.4 C454.2,138.5 461.4,138.4 464.5,138.4 L464.5,197.4 L83.3,197.4Z" fill="rgb(231,231,231)"/><path transform="translate(0,-1.00)" d="M83.3,137.6 C86.6,137.6 91.1,137.1 102.8,137.3 C114.4,137.4 136.8,138.7 153.3,138.4 C169.9,138.2 189.0,136.5 202.0,135.7 C214.9,134.9 222.1,134.1 231.1,133.4 C240.2,132.6 246.7,131.7 256.4,131.4 C266.1,131.2 277.5,131.6 289.5,131.8 C301.5,132.0 317.0,132.3 328.4,132.8 C339.7,133.3 347.8,134.2 357.6,134.9 C367.3,135.6 377.0,136.3 386.7,136.9 C396.5,137.4 406.0,137.8 415.9,138.0 C425.8,138.3 437.9,138.4 446.1,138.4 C454.2,138.5 461.4,138.4 464.5,138.4 L464.5,197.4 L83.3,197.4Z" fill="rgb(240,240,240)"/><path transform="translate(0,-0.00)" d="M83.3,137.6 C86.6,137.6 91.1,137.1 102.8,137.3 C114.4,137.4 136.8,138.7 153.3,138.4 C169.9,138.2 189.0,136.5 202.0,135.7 C214.9,134.9 222.1,134.1 231.1,133.4 C240.2,132.6 246.7,131.7 256.4,131.4 C266.1,131.2 277.5,131.6 289.5,131.8 C301.5,132.0 317.0,132.3 328.4,132.8 C339.7,133.3 347.8,134.2 357.6,134.9 C367.3,135.6 377.0,136.3 386.7,136.9 C396.5,137.4 406.0,137.8 415.9,138.0 C425.8,138.3 437.9,138.4 446.1,138.4 C454.2,138.5 461.4,138.4 464.5,138.4 L464.5,197.4 L83.3,197.4Z" fill="rgb(255,255,255)"/></g>
</g></g>
<rect x="450.9" y="14.0" width="20.7" height="153.3" fill="url(#cbar)"/>
<rect x="450.9" y="14.0" width="20.7" height="3.6" fill="#9a3300"/>
<rect x="450.9" y="18.0" width="20.7" height="1.5" fill="#858585"/>
<rect x="450.9" y="162.1" width="20.7" height="1.4" fill="#5c5c5c"/>
<rect x="450.9" y="163.5" width="20.7" height="3.8" fill="#000"/>
<rect x="450.6" y="14.0" width="0.9" height="153.3" fill="#555" opacity="0.45"/>
<rect x="471.0" y="14.0" width="0.9" height="153.3" fill="#555" opacity="0.45"/>
<rect x="475.4" y="21.5" width="5.6" height="1.9" fill="#303030" filter="url(#tb2)"/>
<text font-weight="bold" font-family='"Liberation Mono",monospace' font-size="16.73" fill="#2e2e2e" filter="url(#tb2)" transform="translate(482.66,27.90) scale(0.6534,1)">1.7</text>
<rect x="475.4" y="65.1" width="5.6" height="1.9" fill="#303030" filter="url(#tb2)"/>
<text font-weight="bold" font-family='"Liberation Mono",monospace' font-size="16.73" fill="#2e2e2e" filter="url(#tb2)" transform="translate(482.66,71.50) scale(0.6534,1)">1.7</text>
<rect x="475.4" y="107.9" width="5.6" height="1.9" fill="#303030" filter="url(#tb2)"/>
<text font-weight="bold" font-family='"Liberation Mono",monospace' font-size="16.18" fill="#2e2e2e" filter="url(#tb2)" transform="translate(482.67,114.14) scale(0.6707,1)">1.6</text>
<rect x="475.4" y="149.0" width="5.6" height="1.9" fill="#303030" filter="url(#tb2)"/>
<rect x="475.4" y="161.9" width="5.6" height="1.9" fill="#303030" filter="url(#tb2)"/>
<text font-weight="bold" font-family='"Liberation Mono",monospace' font-size="16.48" fill="#2e2e2e" filter="url(#tb2)" transform="translate(482.67,168.14) scale(0.6574,1)">1.5</text>
<text font-weight="bold" font-family='"Liberation Sans",sans-serif' font-size="15.55" fill="#757575" filter="url(#tb)" transform="translate(72.55,21.14) scale(0.7726,1)">150</text>
<rect x="94.6" y="13.5" width="5.6" height="1.8" fill="#757575" filter="url(#tb)"/>
<text font-weight="bold" font-family='"Liberation Sans",sans-serif' font-size="15.55" fill="#757575" filter="url(#tb)" transform="translate(70.78,173.74) scale(0.8427,1)">070</text>
<rect x="94.6" y="166.7" width="5.6" height="1.8" fill="#757575" filter="url(#tb)"/>
<text font-weight="bold" font-family='"Liberation Sans",sans-serif' font-size="15.49" fill="#757575" filter="url(#tb)" transform="translate(92.62,190.11) scale(0.8123,1)">300</text>
<text font-weight="bold" font-family='"Liberation Sans",sans-serif' font-size="15.55" fill="#757575" filter="url(#tb)" transform="translate(434.51,190.14) scale(0.8137,1)">450</text>
<rect x="102.9" y="170.9" width="0.9" height="1.2" fill="#999"/>
<rect x="445.0" y="170.9" width="0.9" height="1.2" fill="#999"/>
<rect x="330.2" y="138" width="92.3" height="7.6" fill="#fff"/>
<text font-weight="bold" font-family='"Liberation Sans",sans-serif' font-size="14.41" fill="#fff" stroke="#fff" stroke-width="0.30" transform="translate(354.84,158.06) scale(1.0080,1)">15 µm</text>
<g clip-path="url(#clipC)"><g filter="url(#jet)">
<rect x="816.0" y="-27.4" width="423.2" height="233.4" fill="rgb(0,0,0)"/>
<g style="mix-blend-mode:lighten" stroke-linejoin="round" filter="url(#fb850_1_50)"><use href="#o0_850" fill="rgb(0,0,0)" stroke="rgb(0,0,0)" stroke-width="70.0"/><use href="#o0_850" fill="rgb(4,4,4)" stroke="rgb(4,4,4)" stroke-width="67.5"/><use href="#o0_850" fill="rgb(8,8,8)" stroke="rgb(8,8,8)" stroke-width="65.0"/><use href="#o0_850" fill="rgb(14,14,14)" stroke="rgb(14,14,14)" stroke-width="62.5"/><use href="#o0_850" fill="rgb(21,21,21)" stroke="rgb(21,21,21)" stroke-width="60.0"/><use href="#o0_850" fill="rgb(28,28,28)" stroke="rgb(28,28,28)" stroke-width="57.5"/><use href="#o0_850" fill="rgb(35,35,35)" stroke="rgb(35,35,35)" stroke-width="55.0"/><use href="#o0_850" fill="rgb(43,43,43)" stroke="rgb(43,43,43)" stroke-width="52.5"/><use href="#o0_850" fill="rgb(50,50,50)" stroke="rgb(50,50,50)" stroke-width="50.0"/><use href="#o0_850" fill="rgb(58,58,58)" stroke="rgb(58,58,58)" stroke-width="47.5"/><use href="#o0_850" fill="rgb(66,66,66)" stroke="rgb(66,66,66)" stroke-width="45.0"/><use href="#o0_850" fill="rgb(72,72,72)" stroke="rgb(72,72,72)" stroke-width="42.5"/><use href="#o0_850" fill="rgb(77,77,77)" stroke="rgb(77,77,77)" stroke-width="40.0"/><use href="#o0_850" fill="rgb(82,82,82)" stroke="rgb(82,82,82)" stroke-width="37.5"/><use href="#o0_850" fill="rgb(87,87,87)" stroke="rgb(87,87,87)" stroke-width="35.0"/><use href="#o0_850" fill="rgb(93,93,93)" stroke="rgb(93,93,93)" stroke-width="32.5"/><use href="#o0_850" fill="rgb(99,99,99)" stroke="rgb(99,99,99)" stroke-width="30.0"/><use href="#o0_850" fill="rgb(104,104,104)" stroke="rgb(104,104,104)" stroke-width="27.5"/><use href="#o0_850" fill="rgb(110,110,110)" stroke="rgb(110,110,110)" stroke-width="25.0"/><use href="#o0_850" fill="rgb(116,116,116)" stroke="rgb(116,116,116)" stroke-width="22.5"/><use href="#o0_850" fill="rgb(123,123,123)" stroke="rgb(123,123,123)" stroke-width="20.0"/><use href="#o0_850" fill="rgb(129,129,129)" stroke="rgb(129,129,129)" stroke-width="17.5"/><use href="#o0_850" fill="rgb(136,136,136)" stroke="rgb(136,136,136)" stroke-width="15.0"/><use href="#o0_850" fill="rgb(143,143,143)" stroke="rgb(143,143,143)" stroke-width="12.5"/><use href="#o0_850" fill="rgb(149,149,149)" stroke="rgb(149,149,149)" stroke-width="10.0"/><use href="#o0_850" fill="rgb(154,154,154)" stroke="rgb(154,154,154)" stroke-width="7.5"/><use href="#o0_850" fill="rgb(159,159,159)" stroke="rgb(159,159,159)" stroke-width="5.0"/><use href="#o0_850" fill="rgb(164,164,164)" stroke="rgb(164,164,164)" stroke-width="2.5"/><use href="#o0_850" fill="rgb(170,170,170)"/></g>
<g style="mix-blend-mode:lighten"><path d="M914.2,8.9 L1122.3,8.9 L1122.3,16.3 L914.2,16.3Z" fill="rgb(76,76,76)" filter="url(#fb850_2_50)"/></g>
<g style="mix-blend-mode:lighten"><ellipse cx="915.2" cy="71.5" rx="38.9" ry="12.8" fill="rgb(224,224,224)" transform="rotate(-28 915.2 71.5)" filter="url(#fb850_7_00)"/></g>
<g style="mix-blend-mode:lighten"><ellipse cx="914.2" cy="72.1" rx="56.4" ry="22.4" fill="rgb(189,189,189)" transform="rotate(-28 914.2 72.1)" filter="url(#fb850_8_00)"/></g>
<g style="mix-blend-mode:lighten" transform="rotate(13 1097.4 60.4)" filter="url(#fb850_1_60)"><ellipse cx="1097.4" cy="60.4" rx="83.6" ry="41.8" fill="rgb(170,170,170)"/><ellipse cx="1097.4" cy="60.4" rx="81.2" ry="40.4" fill="rgb(173,173,173)"/><ellipse cx="1097.4" cy="60.4" rx="78.8" ry="38.9" fill="rgb(177,177,177)"/><ellipse cx="1097.4" cy="60.4" rx="76.3" ry="37.4" fill="rgb(180,180,180)"/><ellipse cx="1097.4" cy="60.4" rx="73.9" ry="36.0" fill="rgb(184,184,184)"/><ellipse cx="1097.4" cy="60.4" rx="71.7" ry="34.8" fill="rgb(189,189,189)"/><ellipse cx="1097.4" cy="60.4" rx="69.5" ry="33.5" fill="rgb(194,194,194)"/><ellipse cx="1097.4" cy="60.4" rx="67.3" ry="32.3" fill="rgb(199,199,199)"/><ellipse cx="1097.4" cy="60.4" rx="65.2" ry="31.1" fill="rgb(204,204,204)"/><ellipse cx="1097.4" cy="60.4" rx="63.5" ry="30.2" fill="rgb(209,209,209)"/><ellipse cx="1097.4" cy="60.4" rx="61.8" ry="29.4" fill="rgb(214,214,214)"/><ellipse cx="1097.4" cy="60.4" rx="60.0" ry="28.5" fill="rgb(218,218,218)"/><ellipse cx="1097.4" cy="60.4" rx="58.3" ry="27.6" fill="rgb(223,223,223)"/><ellipse cx="1097.4" cy="60.4" rx="55.9" ry="26.4" fill="rgb(225,225,225)"/><ellipse cx="1097.4" cy="60.4" rx="53.5" ry="25.1" fill="rgb(228,228,228)"/><ellipse cx="1097.4" cy="60.4" rx="51.1" ry="23.8" fill="rgb(230,230,230)"/><ellipse cx="1097.4" cy="60.4" rx="48.6" ry="22.6" fill="rgb(232,232,232)"/><ellipse cx="1097.4" cy="60.4" rx="46.2" ry="21.4" fill="rgb(234,234,234)"/><ellipse cx="1097.4" cy="60.4" rx="43.8" ry="20.2" fill="rgb(235,235,235)"/><ellipse cx="1097.4" cy="60.4" rx="41.3" ry="19.1" fill="rgb(237,237,237)"/><ellipse cx="1097.4" cy="60.4" rx="38.9" ry="17.9" fill="rgb(238,238,238)"/><ellipse cx="1097.4" cy="60.4" rx="37.7" ry="17.3" fill="rgb(240,240,240)"/><ellipse cx="1097.4" cy="60.4" rx="36.6" ry="16.7" fill="rgb(241,241,241)"/><ellipse cx="1097.4" cy="60.4" rx="35.4" ry="16.1" fill="rgb(242,242,242)"/><ellipse cx="1097.4" cy="60.4" rx="34.2" ry="15.6" fill="rgb(244,244,244)"/><ellipse cx="1097.4" cy="60.4" rx="33.9" ry="15.4" fill="rgb(246,246,246)"/><ellipse cx="1097.4" cy="60.4" rx="33.6" ry="15.3" fill="rgb(249,249,249)"/><ellipse cx="1097.4" cy="60.4" rx="33.4" ry="15.1" fill="rgb(252,252,252)"/><ellipse cx="1097.4" cy="60.4" rx="33.1" ry="15.0" fill="rgb(255,255,255)"/><ellipse cx="1097.4" cy="60.4" rx="32.6" ry="14.6" fill="rgb(255,255,255)"/><ellipse cx="1097.4" cy="60.4" rx="32.1" ry="14.3" fill="rgb(255,255,255)"/><ellipse cx="1097.4" cy="60.4" rx="31.6" ry="14.0" fill="rgb(255,255,255)"/><ellipse cx="1097.4" cy="60.4" rx="31.1" ry="13.6" fill="rgb(255,255,255)"/></g>
<g style="mix-blend-mode:darken"><ellipse cx="1180.6" cy="106.1" rx="35.0" ry="27.2" fill="rgb(139,139,139)" filter="url(#fb850_6_00)"/></g>
<g style="mix-blend-mode:darken"><ellipse cx="1200.1" cy="82.8" rx="17.5" ry="35.0" fill="rgb(125,125,125)" filter="url(#fb850_6_00)"/></g>
<g style="mix-blend-mode:darken"><ellipse cx="1153.4" cy="113.9" rx="31.1" ry="13.6" fill="rgb(120,120,120)" filter="url(#fb850_5_00)"/></g>
<g style="mix-blend-mode:darken" filter="url(#fb850_2_00)"><ellipse cx="1022.1" cy="115.1" rx="173.1" ry="29.2" fill="rgb(170,170,170)"/><ellipse cx="1022.1" cy="115.1" rx="169.2" ry="28.0" fill="rgb(165,165,165)"/><ellipse cx="1022.1" cy="115.1" rx="165.3" ry="26.8" fill="rgb(161,161,161)"/><ellipse cx="1022.1" cy="115.1" rx="161.4" ry="25.7" fill="rgb(157,157,157)"/><ellipse cx="1022.1" cy="115.1" rx="157.5" ry="24.5" fill="rgb(153,153,153)"/><ellipse cx="1022.1" cy="115.1" rx="153.6" ry="23.6" fill="rgb(148,148,148)"/><ellipse cx="1022.1" cy="115.1" rx="149.8" ry="22.8" fill="rgb(143,143,143)"/><ellipse cx="1022.1" cy="115.1" rx="145.9" ry="21.9" fill="rgb(139,139,139)"/><ellipse cx="1022.1" cy="115.1" rx="142.0" ry="21.0" fill="rgb(134,134,134)"/><ellipse cx="1022.1" cy="115.1" rx="138.6" ry="20.3" fill="rgb(130,130,130)"/><ellipse cx="1022.1" cy="115.1" rx="135.2" ry="19.6" fill="rgb(127,127,127)"/><ellipse cx="1022.1" cy="115.1" rx="131.8" ry="19.0" fill="rgb(123,123,123)"/><ellipse cx="1022.1" cy="115.1" rx="128.4" ry="18.3" fill="rgb(120,120,120)"/><ellipse cx="1022.1" cy="115.1" rx="123.0" ry="17.5" fill="rgb(118,118,118)"/><ellipse cx="1022.1" cy="115.1" rx="117.7" ry="16.7" fill="rgb(116,116,116)"/><ellipse cx="1022.1" cy="115.1" rx="112.3" ry="15.9" fill="rgb(114,114,114)"/><ellipse cx="1022.1" cy="115.1" rx="107.0" ry="15.2" fill="rgb(112,112,112)"/><ellipse cx="1022.1" cy="115.1" rx="102.1" ry="14.6" fill="rgb(110,110,110)"/><ellipse cx="1022.1" cy="115.1" rx="97.2" ry="14.0" fill="rgb(108,108,108)"/><ellipse cx="1022.1" cy="115.1" rx="92.4" ry="13.4" fill="rgb(106,106,106)"/><ellipse cx="1022.1" cy="115.1" rx="87.5" ry="12.8" fill="rgb(105,105,105)"/><ellipse cx="1022.1" cy="115.1" rx="83.1" ry="12.4" fill="rgb(102,102,102)"/><ellipse cx="1022.1" cy="115.1" rx="78.8" ry="11.9" fill="rgb(100,100,100)"/><ellipse cx="1022.1" cy="115.1" rx="74.4" ry="11.4" fill="rgb(98,98,98)"/><ellipse cx="1022.1" cy="115.1" rx="70.0" ry="10.9" fill="rgb(96,96,96)"/><ellipse cx="1022.1" cy="115.1" rx="66.6" ry="10.4" fill="rgb(93,93,93)"/><ellipse cx="1022.1" cy="115.1" rx="63.2" ry="9.9" fill="rgb(91,91,91)"/><ellipse cx="1022.1" cy="115.1" rx="59.8" ry="9.4" fill="rgb(89,89,89)"/><ellipse cx="1022.1" cy="115.1" rx="56.4" ry="8.9" fill="rgb(87,87,87)"/><ellipse cx="1022.1" cy="115.1" rx="52.5" ry="8.4" fill="rgb(85,85,85)"/><ellipse cx="1022.1" cy="115.1" rx="48.6" ry="7.8" fill="rgb(83,83,83)"/><ellipse cx="1022.1" cy="115.1" rx="44.7" ry="7.2" fill="rgb(81,81,81)"/><ellipse cx="1022.1" cy="115.1" rx="40.8" ry="6.6" fill="rgb(79,79,79)"/><ellipse cx="1022.1" cy="115.1" rx="36.5" ry="5.9" fill="rgb(77,77,77)"/><ellipse cx="1022.1" cy="115.1" rx="32.1" ry="5.3" fill="rgb(76,76,76)"/><ellipse cx="1022.1" cy="115.1" rx="27.7" ry="4.6" fill="rgb(74,74,74)"/><ellipse cx="1022.1" cy="115.1" rx="23.3" ry="3.9" fill="rgb(73,73,73)"/></g>
<g style="mix-blend-mode:lighten" filter="url(#fb850_0_70)"><path transform="translate(0,-9.00)" d="M838.3,138.8 C850.0,138.7 883.7,138.4 908.3,138.4 C933.0,138.5 963.5,139.0 986.1,139.2 C1008.8,139.4 1028.3,139.7 1044.5,139.6 C1060.7,139.5 1067.2,138.7 1083.4,138.4 C1099.6,138.2 1119.0,138.1 1141.7,138.0 C1164.4,138.0 1206.6,138.0 1219.5,138.0 L1219.5,182.4 L838.3,182.4Z" fill="rgb(158,158,158)"/><path transform="translate(0,-8.00)" d="M838.3,138.8 C850.0,138.7 883.7,138.4 908.3,138.4 C933.0,138.5 963.5,139.0 986.1,139.2 C1008.8,139.4 1028.3,139.7 1044.5,139.6 C1060.7,139.5 1067.2,138.7 1083.4,138.4 C1099.6,138.2 1119.0,138.1 1141.7,138.0 C1164.4,138.0 1206.6,138.0 1219.5,138.0 L1219.5,182.4 L838.3,182.4Z" fill="rgb(166,166,166)"/><path transform="translate(0,-7.00)" d="M838.3,138.8 C850.0,138.7 883.7,138.4 908.3,138.4 C933.0,138.5 963.5,139.0 986.1,139.2 C1008.8,139.4 1028.3,139.7 1044.5,139.6 C1060.7,139.5 1067.2,138.7 1083.4,138.4 C1099.6,138.2 1119.0,138.1 1141.7,138.0 C1164.4,138.0 1206.6,138.0 1219.5,138.0 L1219.5,182.4 L838.3,182.4Z" fill="rgb(173,173,173)"/><path transform="translate(0,-6.00)" d="M838.3,138.8 C850.0,138.7 883.7,138.4 908.3,138.4 C933.0,138.5 963.5,139.0 986.1,139.2 C1008.8,139.4 1028.3,139.7 1044.5,139.6 C1060.7,139.5 1067.2,138.7 1083.4,138.4 C1099.6,138.2 1119.0,138.1 1141.7,138.0 C1164.4,138.0 1206.6,138.0 1219.5,138.0 L1219.5,182.4 L838.3,182.4Z" fill="rgb(182,182,182)"/><path transform="translate(0,-5.00)" d="M838.3,138.8 C850.0,138.7 883.7,138.4 908.3,138.4 C933.0,138.5 963.5,139.0 986.1,139.2 C1008.8,139.4 1028.3,139.7 1044.5,139.6 C1060.7,139.5 1067.2,138.7 1083.4,138.4 C1099.6,138.2 1119.0,138.1 1141.7,138.0 C1164.4,138.0 1206.6,138.0 1219.5,138.0 L1219.5,182.4 L838.3,182.4Z" fill="rgb(190,190,190)"/><path transform="translate(0,-4.00)" d="M838.3,138.8 C850.0,138.7 883.7,138.4 908.3,138.4 C933.0,138.5 963.5,139.0 986.1,139.2 C1008.8,139.4 1028.3,139.7 1044.5,139.6 C1060.7,139.5 1067.2,138.7 1083.4,138.4 C1099.6,138.2 1119.0,138.1 1141.7,138.0 C1164.4,138.0 1206.6,138.0 1219.5,138.0 L1219.5,182.4 L838.3,182.4Z" fill="rgb(201,201,201)"/><path transform="translate(0,-3.00)" d="M838.3,138.8 C850.0,138.7 883.7,138.4 908.3,138.4 C933.0,138.5 963.5,139.0 986.1,139.2 C1008.8,139.4 1028.3,139.7 1044.5,139.6 C1060.7,139.5 1067.2,138.7 1083.4,138.4 C1099.6,138.2 1119.0,138.1 1141.7,138.0 C1164.4,138.0 1206.6,138.0 1219.5,138.0 L1219.5,182.4 L838.3,182.4Z" fill="rgb(215,215,215)"/><path transform="translate(0,-2.00)" d="M838.3,138.8 C850.0,138.7 883.7,138.4 908.3,138.4 C933.0,138.5 963.5,139.0 986.1,139.2 C1008.8,139.4 1028.3,139.7 1044.5,139.6 C1060.7,139.5 1067.2,138.7 1083.4,138.4 C1099.6,138.2 1119.0,138.1 1141.7,138.0 C1164.4,138.0 1206.6,138.0 1219.5,138.0 L1219.5,182.4 L838.3,182.4Z" fill="rgb(228,228,228)"/><path transform="translate(0,-1.00)" d="M838.3,138.8 C850.0,138.7 883.7,138.4 908.3,138.4 C933.0,138.5 963.5,139.0 986.1,139.2 C1008.8,139.4 1028.3,139.7 1044.5,139.6 C1060.7,139.5 1067.2,138.7 1083.4,138.4 C1099.6,138.2 1119.0,138.1 1141.7,138.0 C1164.4,138.0 1206.6,138.0 1219.5,138.0 L1219.5,182.4 L838.3,182.4Z" fill="rgb(240,240,240)"/><path transform="translate(0,-0.00)" d="M838.3,138.8 C850.0,138.7 883.7,138.4 908.3,138.4 C933.0,138.5 963.5,139.0 986.1,139.2 C1008.8,139.4 1028.3,139.7 1044.5,139.6 C1060.7,139.5 1067.2,138.7 1083.4,138.4 C1099.6,138.2 1119.0,138.1 1141.7,138.0 C1164.4,138.0 1206.6,138.0 1219.5,138.0 L1219.5,182.4 L838.3,182.4Z" fill="rgb(255,255,255)"/></g>
</g></g>
<path d="M857,139.8 H882.8 V166" fill="none" stroke="#c08060" stroke-opacity="0.55" stroke-width="0.7"/><text font-weight="bold" font-family='"Liberation Sans",sans-serif' font-size="33.42" fill="#000" filter="url(#tb)" transform="translate(1159.68,39.47) scale(1.2888,1)">c</text>
<rect x="1204.4" y="12.6" width="20.5" height="153.4" fill="url(#cbar)"/>
<rect x="1204.4" y="12.6" width="20.5" height="3.6" fill="#9a3300"/>
<rect x="1204.4" y="16.6" width="20.5" height="1.5" fill="#858585"/>
<rect x="1204.4" y="160.8" width="20.5" height="1.4" fill="#5c5c5c"/>
<rect x="1204.4" y="162.2" width="20.5" height="3.8" fill="#000"/>
<rect x="1204.1" y="12.6" width="0.9" height="153.4" fill="#555" opacity="0.45"/>
<rect x="1224.3" y="12.6" width="0.9" height="153.4" fill="#555" opacity="0.45"/>
<rect x="1228.7" y="20.1" width="5.6" height="1.9" fill="#303030" filter="url(#tb2)"/>
<text font-weight="bold" font-family='"Liberation Mono",monospace' font-size="16.73" fill="#2e2e2e" filter="url(#tb2)" transform="translate(1235.96,26.50) scale(0.6534,1)">1.7</text>
<rect x="1228.7" y="63.7" width="5.6" height="1.9" fill="#303030" filter="url(#tb2)"/>
<text font-weight="bold" font-family='"Liberation Mono",monospace' font-size="16.73" fill="#2e2e2e" filter="url(#tb2)" transform="translate(1235.96,70.10) scale(0.6534,1)">1.7</text>
<rect x="1228.7" y="106.5" width="5.6" height="1.9" fill="#303030" filter="url(#tb2)"/>
<text font-weight="bold" font-family='"Liberation Mono",monospace' font-size="16.18" fill="#2e2e2e" filter="url(#tb2)" transform="translate(1235.97,112.74) scale(0.6707,1)">1.6</text>
<rect x="1228.7" y="147.7" width="5.6" height="1.9" fill="#303030" filter="url(#tb2)"/>
<rect x="1228.7" y="160.0" width="5.6" height="1.9" fill="#303030" filter="url(#tb2)"/>
<text font-weight="bold" font-family='"Liberation Mono",monospace' font-size="16.48" fill="#2e2e2e" filter="url(#tb2)" transform="translate(1235.97,166.24) scale(0.6574,1)">1.5</text>
<text font-weight="bold" font-family='"Liberation Sans",sans-serif' font-size="15.55" fill="#757575" filter="url(#tb)" transform="translate(825.95,19.64) scale(0.7726,1)">150</text>
<rect x="848.0" y="12.1" width="5.6" height="1.8" fill="#757575" filter="url(#tb)"/>
<text font-weight="bold" font-family='"Liberation Sans",sans-serif' font-size="15.55" fill="#757575" filter="url(#tb)" transform="translate(824.18,172.34) scale(0.8427,1)">070</text>
<rect x="848.0" y="165.2" width="5.6" height="1.8" fill="#757575" filter="url(#tb)"/>
<text font-weight="bold" font-family='"Liberation Sans",sans-serif' font-size="15.77" fill="#757575" filter="url(#tb)" transform="translate(846.21,188.84) scale(0.8038,1)">475</text>
<text font-weight="bold" font-family='"Liberation Sans",sans-serif' font-size="15.55" fill="#757575" filter="url(#tb)" transform="translate(1187.74,189.04) scale(0.7867,1)">625</text>
<rect x="856.3" y="169.6" width="0.9" height="1.2" fill="#999"/>
<rect x="1198.4" y="169.6" width="0.9" height="1.2" fill="#999"/>
<rect x="1068.2" y="138" width="92.0" height="7.6" fill="#fff"/>
<text font-weight="bold" font-family='"Liberation Sans",sans-serif' font-size="14.41" fill="#fff" stroke="#fff" stroke-width="0.30" transform="translate(1093.64,158.06) scale(1.0080,1)">15 µm</text>
<g clip-path="url(#clipE)"><g filter="url(#jet)">
<rect x="48.8" y="667.0" width="425.2" height="234.3" fill="rgb(80,80,80)"/>
<g style="mix-blend-mode:lighten"><ellipse cx="260.9" cy="717.4" rx="25.3" ry="15.6" fill="rgb(93,93,93)" filter="url(#fb82_5_00)"/></g>
<g style="mix-blend-mode:lighten"><ellipse cx="169.5" cy="719.4" rx="38.9" ry="13.6" fill="rgb(84,84,84)" filter="url(#fb82_6_00)"/></g>
<g style="mix-blend-mode:lighten"><ellipse cx="350.4" cy="721.3" rx="42.8" ry="13.6" fill="rgb(84,84,84)" filter="url(#fb82_6_00)"/></g>
<g style="mix-blend-mode:lighten"><ellipse cx="402.9" cy="756.3" rx="23.3" ry="17.5" fill="rgb(83,83,83)" filter="url(#fb82_6_00)"/></g>
<g><ellipse cx="227.9" cy="764.1" rx="19.4" ry="13.6" fill="rgb(74,74,74)" filter="url(#fb82_6_00)"/></g>
<g><ellipse cx="301.8" cy="760.2" rx="15.6" ry="11.7" fill="rgb(75,75,75)" filter="url(#fb82_6_00)"/></g>
<g><ellipse cx="377.6" cy="801.1" rx="29.2" ry="11.7" fill="rgb(74,74,74)" filter="url(#fb82_6_00)"/></g>
<g><ellipse cx="124.8" cy="791.4" rx="29.2" ry="19.4" fill="rgb(76,76,76)" filter="url(#fb82_7_00)"/></g>
<g><ellipse cx="140.3" cy="746.6" rx="19.4" ry="11.7" fill="rgb(76,76,76)" filter="url(#fb82_6_00)"/></g>
<g style="mix-blend-mode:lighten"><path d="M163.7,838.0 C139.0,834.8 178.3,825.1 187.0,818.6 C195.8,812.1 207.1,805.6 216.2,799.1 C225.3,792.7 233.7,785.0 241.5,779.7 C249.3,774.3 256.4,767.4 262.9,767.0 C269.4,766.7 274.9,773.0 280.4,777.7 C285.9,782.4 290.1,788.8 295.9,795.2 C301.8,801.7 308.9,809.5 315.4,816.6 C321.9,823.8 360.1,834.5 334.8,838.0 C309.6,841.6 188.3,841.3 163.7,838.0Z" fill="rgb(121,121,121)" filter="url(#fb82_7_00)"/></g>
<g style="mix-blend-mode:lighten"><ellipse cx="262.9" cy="795.2" rx="22.4" ry="13.6" fill="rgb(135,135,135)" filter="url(#fb82_6_00)"/></g>
<g style="mix-blend-mode:lighten"><ellipse cx="257.0" cy="814.7" rx="48.6" ry="8.8" fill="rgb(125,125,125)" filter="url(#fb82_4_50)"/></g>
<g style="mix-blend-mode:lighten" filter="url(#fb82_0_80)"><path transform="translate(0,-15.00)" d="M70.3,833.6 C75.5,833.5 91.4,832.9 101.4,833.0 C111.5,833.0 120.9,833.9 130.6,833.9 C140.3,834.0 148.5,833.5 159.8,833.2 C171.1,832.9 189.0,832.2 198.7,832.2 C208.4,832.2 210.0,832.7 218.1,833.0 C226.2,833.2 237.6,833.6 247.3,833.6 C257.0,833.5 268.4,833.0 276.5,832.8 C284.6,832.6 287.8,832.1 295.9,832.2 C304.0,832.3 315.4,833.3 325.1,833.4 C334.8,833.4 344.6,832.6 354.3,832.6 C364.0,832.6 373.7,833.6 383.5,833.6 C393.2,833.6 401.3,832.6 412.6,832.6 C424.0,832.6 445.0,833.2 451.5,833.4 L451.5,883.3 L70.3,883.3Z" fill="rgb(79,79,79)"/><path transform="translate(0,-14.00)" d="M70.3,833.6 C75.5,833.5 91.4,832.9 101.4,833.0 C111.5,833.0 120.9,833.9 130.6,833.9 C140.3,834.0 148.5,833.5 159.8,833.2 C171.1,832.9 189.0,832.2 198.7,832.2 C208.4,832.2 210.0,832.7 218.1,833.0 C226.2,833.2 237.6,833.6 247.3,833.6 C257.0,833.5 268.4,833.0 276.5,832.8 C284.6,832.6 287.8,832.1 295.9,832.2 C304.0,832.3 315.4,833.3 325.1,833.4 C334.8,833.4 344.6,832.6 354.3,832.6 C364.0,832.6 373.7,833.6 383.5,833.6 C393.2,833.6 401.3,832.6 412.6,832.6 C424.0,832.6 445.0,833.2 451.5,833.4 L451.5,883.3 L70.3,883.3Z" fill="rgb(85,85,85)"/><path transform="translate(0,-13.00)" d="M70.3,833.6 C75.5,833.5 91.4,832.9 101.4,833.0 C111.5,833.0 120.9,833.9 130.6,833.9 C140.3,834.0 148.5,833.5 159.8,833.2 C171.1,832.9 189.0,832.2 198.7,832.2 C208.4,832.2 210.0,832.7 218.1,833.0 C226.2,833.2 237.6,833.6 247.3,833.6 C257.0,833.5 268.4,833.0 276.5,832.8 C284.6,832.6 287.8,832.1 295.9,832.2 C304.0,832.3 315.4,833.3 325.1,833.4 C334.8,833.4 344.6,832.6 354.3,832.6 C364.0,832.6 373.7,833.6 383.5,833.6 C393.2,833.6 401.3,832.6 412.6,832.6 C424.0,832.6 445.0,833.2 451.5,833.4 L451.5,883.3 L70.3,883.3Z" fill="rgb(92,92,92)"/><path transform="translate(0,-12.00)" d="M70.3,833.6 C75.5,833.5 91.4,832.9 101.4,833.0 C111.5,833.0 120.9,833.9 130.6,833.9 C140.3,834.0 148.5,833.5 159.8,833.2 C171.1,832.9 189.0,832.2 198.7,832.2 C208.4,832.2 210.0,832.7 218.1,833.0 C226.2,833.2 237.6,833.6 247.3,833.6 C257.0,833.5 268.4,833.0 276.5,832.8 C284.6,832.6 287.8,832.1 295.9,832.2 C304.0,832.3 315.4,833.3 325.1,833.4 C334.8,833.4 344.6,832.6 354.3,832.6 C364.0,832.6 373.7,833.6 383.5,833.6 C393.2,833.6 401.3,832.6 412.6,832.6 C424.0,832.6 445.0,833.2 451.5,833.4 L451.5,883.3 L70.3,883.3Z" fill="rgb(102,102,102)"/><path transform="translate(0,-11.00)" d="M70.3,833.6 C75.5,833.5 91.4,832.9 101.4,833.0 C111.5,833.0 120.9,833.9 130.6,833.9 C140.3,834.0 148.5,833.5 159.8,833.2 C171.1,832.9 189.0,832.2 198.7,832.2 C208.4,832.2 210.0,832.7 218.1,833.0 C226.2,833.2 237.6,833.6 247.3,833.6 C257.0,833.5 268.4,833.0 276.5,832.8 C284.6,832.6 287.8,832.1 295.9,832.2 C304.0,832.3 315.4,833.3 325.1,833.4 C334.8,833.4 344.6,832.6 354.3,832.6 C364.0,832.6 373.7,833.6 383.5,833.6 C393.2,833.6 401.3,832.6 412.6,832.6 C424.0,832.6 445.0,833.2 451.5,833.4 L451.5,883.3 L70.3,883.3Z" fill="rgb(112,112,112)"/><path transform="translate(0,-10.00)" d="M70.3,833.6 C75.5,833.5 91.4,832.9 101.4,833.0 C111.5,833.0 120.9,833.9 130.6,833.9 C140.3,834.0 148.5,833.5 159.8,833.2 C171.1,832.9 189.0,832.2 198.7,832.2 C208.4,832.2 210.0,832.7 218.1,833.0 C226.2,833.2 237.6,833.6 247.3,833.6 C257.0,833.5 268.4,833.0 276.5,832.8 C284.6,832.6 287.8,832.1 295.9,832.2 C304.0,832.3 315.4,833.3 325.1,833.4 C334.8,833.4 344.6,832.6 354.3,832.6 C364.0,832.6 373.7,833.6 383.5,833.6 C393.2,833.6 401.3,832.6 412.6,832.6 C424.0,832.6 445.0,833.2 451.5,833.4 L451.5,883.3 L70.3,883.3Z" fill="rgb(125,125,125)"/><path transform="translate(0,-9.00)" d="M70.3,833.6 C75.5,833.5 91.4,832.9 101.4,833.0 C111.5,833.0 120.9,833.9 130.6,833.9 C140.3,834.0 148.5,833.5 159.8,833.2 C171.1,832.9 189.0,832.2 198.7,832.2 C208.4,832.2 210.0,832.7 218.1,833.0 C226.2,833.2 237.6,833.6 247.3,833.6 C257.0,833.5 268.4,833.0 276.5,832.8 C284.6,832.6 287.8,832.1 295.9,832.2 C304.0,832.3 315.4,833.3 325.1,833.4 C334.8,833.4 344.6,832.6 354.3,832.6 C364.0,832.6 373.7,833.6 383.5,833.6 C393.2,833.6 401.3,832.6 412.6,832.6 C424.0,832.6 445.0,833.2 451.5,833.4 L451.5,883.3 L70.3,883.3Z" fill="rgb(139,139,139)"/><path transform="translate(0,-8.00)" d="M70.3,833.6 C75.5,833.5 91.4,832.9 101.4,833.0 C111.5,833.0 120.9,833.9 130.6,833.9 C140.3,834.0 148.5,833.5 159.8,833.2 C171.1,832.9 189.0,832.2 198.7,832.2 C208.4,832.2 210.0,832.7 218.1,833.0 C226.2,833.2 237.6,833.6 247.3,833.6 C257.0,833.5 268.4,833.0 276.5,832.8 C284.6,832.6 287.8,832.1 295.9,832.2 C304.0,832.3 315.4,833.3 325.1,833.4 C334.8,833.4 344.6,832.6 354.3,832.6 C364.0,832.6 373.7,833.6 383.5,833.6 C393.2,833.6 401.3,832.6 412.6,832.6 C424.0,832.6 445.0,833.2 451.5,833.4 L451.5,883.3 L70.3,883.3Z" fill="rgb(152,152,152)"/><path transform="translate(0,-7.00)" d="M70.3,833.6 C75.5,833.5 91.4,832.9 101.4,833.0 C111.5,833.0 120.9,833.9 130.6,833.9 C140.3,834.0 148.5,833.5 159.8,833.2 C171.1,832.9 189.0,832.2 198.7,832.2 C208.4,832.2 210.0,832.7 218.1,833.0 C226.2,833.2 237.6,833.6 247.3,833.6 C257.0,833.5 268.4,833.0 276.5,832.8 C284.6,832.6 287.8,832.1 295.9,832.2 C304.0,832.3 315.4,833.3 325.1,833.4 C334.8,833.4 344.6,832.6 354.3,832.6 C364.0,832.6 373.7,833.6 383.5,833.6 C393.2,833.6 401.3,832.6 412.6,832.6 C424.0,832.6 445.0,833.2 451.5,833.4 L451.5,883.3 L70.3,883.3Z" fill="rgb(164,164,164)"/><path transform="translate(0,-6.00)" d="M70.3,833.6 C75.5,833.5 91.4,832.9 101.4,833.0 C111.5,833.0 120.9,833.9 130.6,833.9 C140.3,834.0 148.5,833.5 159.8,833.2 C171.1,832.9 189.0,832.2 198.7,832.2 C208.4,832.2 210.0,832.7 218.1,833.0 C226.2,833.2 237.6,833.6 247.3,833.6 C257.0,833.5 268.4,833.0 276.5,832.8 C284.6,832.6 287.8,832.1 295.9,832.2 C304.0,832.3 315.4,833.3 325.1,833.4 C334.8,833.4 344.6,832.6 354.3,832.6 C364.0,832.6 373.7,833.6 383.5,833.6 C393.2,833.6 401.3,832.6 412.6,832.6 C424.0,832.6 445.0,833.2 451.5,833.4 L451.5,883.3 L70.3,883.3Z" fill="rgb(175,175,175)"/><path transform="translate(0,-5.00)" d="M70.3,833.6 C75.5,833.5 91.4,832.9 101.4,833.0 C111.5,833.0 120.9,833.9 130.6,833.9 C140.3,834.0 148.5,833.5 159.8,833.2 C171.1,832.9 189.0,832.2 198.7,832.2 C208.4,832.2 210.0,832.7 218.1,833.0 C226.2,833.2 237.6,833.6 247.3,833.6 C257.0,833.5 268.4,833.0 276.5,832.8 C284.6,832.6 287.8,832.1 295.9,832.2 C304.0,832.3 315.4,833.3 325.1,833.4 C334.8,833.4 344.6,832.6 354.3,832.6 C364.0,832.6 373.7,833.6 383.5,833.6 C393.2,833.6 401.3,832.6 412.6,832.6 C424.0,832.6 445.0,833.2 451.5,833.4 L451.5,883.3 L70.3,883.3Z" fill="rgb(187,187,187)"/><path transform="translate(0,-4.00)" d="M70.3,833.6 C75.5,833.5 91.4,832.9 101.4,833.0 C111.5,833.0 120.9,833.9 130.6,833.9 C140.3,834.0 148.5,833.5 159.8,833.2 C171.1,832.9 189.0,832.2 198.7,832.2 C208.4,832.2 210.0,832.7 218.1,833.0 C226.2,833.2 237.6,833.6 247.3,833.6 C257.0,833.5 268.4,833.0 276.5,832.8 C284.6,832.6 287.8,832.1 295.9,832.2 C304.0,832.3 315.4,833.3 325.1,833.4 C334.8,833.4 344.6,832.6 354.3,832.6 C364.0,832.6 373.7,833.6 383.5,833.6 C393.2,833.6 401.3,832.6 412.6,832.6 C424.0,832.6 445.0,833.2 451.5,833.4 L451.5,883.3 L70.3,883.3Z" fill="rgb(200,200,200)"/><path transform="translate(0,-3.00)" d="M70.3,833.6 C75.5,833.5 91.4,832.9 101.4,833.0 C111.5,833.0 120.9,833.9 130.6,833.9 C140.3,834.0 148.5,833.5 159.8,833.2 C171.1,832.9 189.0,832.2 198.7,832.2 C208.4,832.2 210.0,832.7 218.1,833.0 C226.2,833.2 237.6,833.6 247.3,833.6 C257.0,833.5 268.4,833.0 276.5,832.8 C284.6,832.6 287.8,832.1 295.9,832.2 C304.0,832.3 315.4,833.3 325.1,833.4 C334.8,833.4 344.6,832.6 354.3,832.6 C364.0,832.6 373.7,833.6 383.5,833.6 C393.2,833.6 401.3,832.6 412.6,832.6 C424.0,832.6 445.0,833.2 451.5,833.4 L451.5,883.3 L70.3,883.3Z" fill="rgb(216,216,216)"/><path transform="translate(0,-2.00)" d="M70.3,833.6 C75.5,833.5 91.4,832.9 101.4,833.0 C111.5,833.0 120.9,833.9 130.6,833.9 C140.3,834.0 148.5,833.5 159.8,833.2 C171.1,832.9 189.0,832.2 198.7,832.2 C208.4,832.2 210.0,832.7 218.1,833.0 C226.2,833.2 237.6,833.6 247.3,833.6 C257.0,833.5 268.4,833.0 276.5,832.8 C284.6,832.6 287.8,832.1 295.9,832.2 C304.0,832.3 315.4,833.3 325.1,833.4 C334.8,833.4 344.6,832.6 354.3,832.6 C364.0,832.6 373.7,833.6 383.5,833.6 C393.2,833.6 401.3,832.6 412.6,832.6 C424.0,832.6 445.0,833.2 451.5,833.4 L451.5,883.3 L70.3,883.3Z" fill="rgb(229,229,229)"/><path transform="translate(0,-1.00)" d="M70.3,833.6 C75.5,833.5 91.4,832.9 101.4,833.0 C111.5,833.0 120.9,833.9 130.6,833.9 C140.3,834.0 148.5,833.5 159.8,833.2 C171.1,832.9 189.0,832.2 198.7,832.2 C208.4,832.2 210.0,832.7 218.1,833.0 C226.2,833.2 237.6,833.6 247.3,833.6 C257.0,833.5 268.4,833.0 276.5,832.8 C284.6,832.6 287.8,832.1 295.9,832.2 C304.0,832.3 315.4,833.3 325.1,833.4 C334.8,833.4 344.6,832.6 354.3,832.6 C364.0,832.6 373.7,833.6 383.5,833.6 C393.2,833.6 401.3,832.6 412.6,832.6 C424.0,832.6 445.0,833.2 451.5,833.4 L451.5,883.3 L70.3,883.3Z" fill="rgb(240,240,240)"/><path transform="translate(0,-0.00)" d="M70.3,833.6 C75.5,833.5 91.4,832.9 101.4,833.0 C111.5,833.0 120.9,833.9 130.6,833.9 C140.3,834.0 148.5,833.5 159.8,833.2 C171.1,832.9 189.0,832.2 198.7,832.2 C208.4,832.2 210.0,832.7 218.1,833.0 C226.2,833.2 237.6,833.6 247.3,833.6 C257.0,833.5 268.4,833.0 276.5,832.8 C284.6,832.6 287.8,832.1 295.9,832.2 C304.0,832.3 315.4,833.3 325.1,833.4 C334.8,833.4 344.6,832.6 354.3,832.6 C364.0,832.6 373.7,833.6 383.5,833.6 C393.2,833.6 401.3,832.6 412.6,832.6 C424.0,832.6 445.0,833.2 451.5,833.4 L451.5,883.3 L70.3,883.3Z" fill="rgb(255,255,255)"/></g>
</g></g>
<rect x="439.2" y="707.0" width="20.5" height="154.3" fill="url(#cbar)"/>
<rect x="439.2" y="707.0" width="20.5" height="3.6" fill="#9a3300"/>
<rect x="439.2" y="711.0" width="20.5" height="1.5" fill="#858585"/>
<rect x="439.2" y="856.1" width="20.5" height="1.4" fill="#5c5c5c"/>
<rect x="439.2" y="857.5" width="20.5" height="3.8" fill="#000"/>
<rect x="438.9" y="707.0" width="0.9" height="154.3" fill="#555" opacity="0.45"/>
<rect x="459.1" y="707.0" width="0.9" height="154.3" fill="#555" opacity="0.45"/>
<rect x="463.5" y="714.5" width="5.6" height="1.9" fill="#303030" filter="url(#tb2)"/>
<text font-weight="bold" font-family='"Liberation Mono",monospace' font-size="16.73" fill="#2e2e2e" filter="url(#tb2)" transform="translate(470.76,720.90) scale(0.6534,1)">1.7</text>
<rect x="463.5" y="743.0" width="5.6" height="1.9" fill="#303030" filter="url(#tb2)"/>
<text font-weight="bold" font-family='"Liberation Mono",monospace' font-size="16.73" fill="#2e2e2e" filter="url(#tb2)" transform="translate(470.76,749.40) scale(0.6534,1)">1.7</text>
<rect x="463.5" y="771.4" width="5.6" height="1.9" fill="#303030" filter="url(#tb2)"/>
<text font-weight="bold" font-family='"Liberation Mono",monospace' font-size="16.18" fill="#2e2e2e" filter="url(#tb2)" transform="translate(470.77,777.64) scale(0.6707,1)">1.6</text>
<rect x="463.5" y="800.6" width="5.6" height="1.9" fill="#303030" filter="url(#tb2)"/>
<text font-weight="bold" font-family='"Liberation Mono",monospace' font-size="16.18" fill="#2e2e2e" filter="url(#tb2)" transform="translate(470.77,806.84) scale(0.6707,1)">1.6</text>
<rect x="463.5" y="827.7" width="5.6" height="1.9" fill="#303030" filter="url(#tb2)"/>
<text font-weight="bold" font-family='"Liberation Mono",monospace' font-size="16.48" fill="#2e2e2e" filter="url(#tb2)" transform="translate(470.77,833.94) scale(0.6574,1)">1.5</text>
<rect x="463.5" y="854.9" width="5.6" height="1.9" fill="#303030" filter="url(#tb2)"/>
<text font-weight="bold" font-family='"Liberation Mono",monospace' font-size="16.73" fill="#2e2e2e" filter="url(#tb2)" transform="translate(470.78,861.30) scale(0.6390,1)">1.4</text>
<text font-weight="bold" font-family='"Liberation Sans",sans-serif' font-size="15.55" fill="#505050" filter="url(#tb2)" transform="translate(57.45,713.94) scale(0.8239,1)">250</text>
<rect x="80.8" y="706.7" width="5.6" height="1.8" fill="#505050" filter="url(#tb2)"/>
<text font-weight="bold" font-family='"Liberation Sans",sans-serif' font-size="15.55" fill="#505050" filter="url(#tb2)" transform="translate(57.59,867.64) scale(0.8184,1)">050</text>
<rect x="80.8" y="860.1" width="5.6" height="1.8" fill="#505050" filter="url(#tb2)"/>
<text font-weight="bold" font-family='"Liberation Sans",sans-serif' font-size="15.55" fill="#505050" filter="url(#tb2)" transform="translate(79.15,883.94) scale(0.7726,1)">150</text>
<text font-weight="bold" font-family='"Liberation Sans",sans-serif' font-size="15.55" fill="#505050" filter="url(#tb2)" transform="translate(422.08,883.94) scale(0.8050,1)">650</text>
<rect x="89.1" y="864.9" width="0.9" height="1.2" fill="#999"/>
<rect x="433.2" y="864.9" width="0.9" height="1.2" fill="#999"/>
<rect x="334.7" y="837.7" width="91.9" height="7.6" fill="#fff"/>
<text font-weight="bold" font-family='"Liberation Sans",sans-serif' font-size="13.92" fill="#fff" stroke="#fff" stroke-width="0.30" transform="translate(358.95,857.56) scale(1.0331,1)">25 µm</text>
<g clip-path="url(#clipG)"><g filter="url(#jet)">
<rect x="802.0" y="683.4" width="426.0" height="233.7" fill="rgb(88,88,88)"/>
<g><ellipse cx="883.6" cy="732.1" rx="17.5" ry="13.6" fill="rgb(76,76,76)" transform="rotate(20 883.6 732.1)" filter="url(#fb835_4_50)"/></g>
<g><ellipse cx="959.5" cy="734.0" rx="11.7" ry="17.5" fill="rgb(68,68,68)" transform="rotate(20 959.5 734.0)" filter="url(#fb835_4_50)"/></g>
<g><ellipse cx="1033.4" cy="743.8" rx="15.6" ry="13.6" fill="rgb(73,73,73)" filter="url(#fb835_4_50)"/></g>
<g><ellipse cx="1066.4" cy="739.9" rx="11.7" ry="11.7" fill="rgb(76,76,76)" filter="url(#fb835_4_50)"/></g>
<g><ellipse cx="969.2" cy="778.8" rx="17.5" ry="11.7" fill="rgb(76,76,76)" filter="url(#fb835_4_50)"/></g>
<g><ellipse cx="885.6" cy="825.5" rx="21.4" ry="11.7" fill="rgb(76,76,76)" filter="url(#fb835_4_50)"/></g>
<g><ellipse cx="1155.9" cy="825.5" rx="25.3" ry="11.7" fill="rgb(76,76,76)" filter="url(#fb835_4_50)"/></g>
<g><ellipse cx="1107.3" cy="743.8" rx="19.4" ry="15.6" fill="rgb(82,82,82)" filter="url(#fb835_4_50)"/></g>
<g><ellipse cx="1010.0" cy="726.3" rx="15.6" ry="7.8" fill="rgb(79,79,79)" filter="url(#fb835_4_50)"/></g>
<g style="mix-blend-mode:lighten"><ellipse cx="980.9" cy="743.8" rx="10.7" ry="14.6" fill="rgb(117,117,117)" transform="rotate(25 980.9 743.8)" filter="url(#fb835_4_00)"/></g>
<g style="mix-blend-mode:lighten"><ellipse cx="1169.5" cy="739.9" rx="6.8" ry="17.5" fill="rgb(115,115,115)" transform="rotate(10 1169.5 739.9)" filter="url(#fb835_4_00)"/></g>
<g style="mix-blend-mode:lighten"><ellipse cx="1171.5" cy="790.5" rx="6.8" ry="17.5" fill="rgb(120,120,120)" transform="rotate(5 1171.5 790.5)" filter="url(#fb835_4_00)"/></g>
<g style="mix-blend-mode:lighten"><ellipse cx="858.3" cy="798.2" rx="15.6" ry="11.7" fill="rgb(110,110,110)" filter="url(#fb835_4_00)"/></g>
<g style="mix-blend-mode:lighten"><ellipse cx="895.3" cy="800.2" rx="11.7" ry="13.6" fill="rgb(110,110,110)" filter="url(#fb835_4_00)"/></g>
<g style="mix-blend-mode:lighten"><ellipse cx="922.5" cy="737.9" rx="9.7" ry="13.6" fill="rgb(98,98,98)" transform="rotate(20 922.5 737.9)" filter="url(#fb835_4_00)"/></g>
<g style="mix-blend-mode:lighten"><ellipse cx="1074.2" cy="780.7" rx="8.8" ry="10.7" fill="rgb(105,105,105)" filter="url(#fb835_4_00)"/></g>
<g style="mix-blend-mode:lighten"><ellipse cx="1097.6" cy="788.5" rx="11.7" ry="11.7" fill="rgb(107,107,107)" filter="url(#fb835_4_00)"/></g>
<g style="mix-blend-mode:lighten"><ellipse cx="1138.4" cy="792.4" rx="9.7" ry="11.7" fill="rgb(102,102,102)" transform="rotate(20 1138.4 792.4)" filter="url(#fb835_4_00)"/></g>
<g style="mix-blend-mode:lighten"><ellipse cx="1048.9" cy="734.0" rx="7.8" ry="11.7" fill="rgb(94,94,94)" filter="url(#fb835_4_00)"/></g>
<g style="mix-blend-mode:lighten"><ellipse cx="1136.5" cy="743.8" rx="15.6" ry="11.7" fill="rgb(94,94,94)" filter="url(#fb835_4_00)"/></g>
<g style="mix-blend-mode:lighten"><path d="M899.2,854.6 C866.1,850.7 909.6,839.4 912.8,831.3 C916.0,823.2 914.7,814.1 918.6,806.0 C922.5,797.9 930.6,785.6 936.1,782.7 C941.6,779.8 947.8,786.2 951.7,788.5 C955.6,790.8 954.3,797.3 959.5,796.3 C964.7,795.3 974.4,785.9 982.8,782.7 C991.2,779.4 1000.3,778.1 1010.0,776.8 C1019.8,775.5 1032.7,773.9 1041.2,774.9 C1049.6,775.9 1055.1,778.1 1060.6,782.7 C1066.1,787.2 1068.7,795.3 1074.2,802.1 C1079.7,808.9 1087.5,814.8 1093.7,823.5 C1099.8,832.3 1143.6,849.4 1111.2,854.6 C1078.8,859.8 932.2,858.5 899.2,854.6Z" fill="rgb(128,128,128)" filter="url(#fb835_5_00)"/></g>
<g style="mix-blend-mode:lighten"><ellipse cx="932.2" cy="811.8" rx="17.5" ry="21.4" fill="rgb(138,138,138)" filter="url(#fb835_5_00)"/></g>
<g style="mix-blend-mode:lighten"><path d="M963.4,808.0 C964.7,804.4 968.9,799.2 975.0,796.3 C981.2,793.4 991.2,792.1 1000.3,790.5 C1009.4,788.8 1021.1,786.2 1029.5,786.6 C1037.9,786.9 1045.7,789.2 1050.9,792.4 C1056.1,795.6 1059.6,801.5 1060.6,806.0 C1061.6,810.5 1060.3,816.4 1056.7,819.6 C1053.2,822.9 1045.4,824.3 1039.2,825.5 C1033.1,826.6 1026.2,826.4 1019.8,826.4 C1013.3,826.4 1007.1,825.9 1000.3,825.5 C993.5,825.0 984.4,824.8 978.9,823.5 C973.4,822.2 969.8,820.3 967.3,817.7 C964.7,815.1 962.1,811.5 963.4,808.0Z" fill="rgb(153,153,153)" filter="url(#fb835_4_00)"/></g>
<g style="mix-blend-mode:lighten"><path d="M971.1,808.9 C973.1,806.3 980.2,802.4 986.7,800.2 C993.2,797.9 1002.6,796.6 1010.0,795.3 C1017.5,794.0 1025.3,792.1 1031.4,792.4 C1037.6,792.7 1043.4,794.7 1047.0,797.3 C1050.6,799.9 1052.8,804.6 1052.8,808.0 C1052.8,811.4 1050.9,815.6 1047.0,817.7 C1043.1,819.8 1036.3,820.1 1029.5,820.6 C1022.7,821.1 1013.3,820.8 1006.1,820.6 C999.0,820.4 991.9,820.4 986.7,819.6 C981.5,818.8 977.6,817.5 975.0,815.7 C972.4,814.0 969.2,811.5 971.1,808.9Z" fill="rgb(172,172,172)" filter="url(#fb835_3_50)"/></g>
<g style="mix-blend-mode:lighten"><ellipse cx="1021.7" cy="807.0" rx="13.6" ry="9.7" fill="rgb(178,178,178)" filter="url(#fb835_4_00)"/></g>
<g style="mix-blend-mode:lighten" filter="url(#fb835_0_80)"><path transform="translate(0,-14.00)" d="M823.3,848.8 C828.5,848.7 845.4,848.2 854.4,848.0 C863.5,847.8 870.3,847.4 877.8,847.6 C885.2,847.8 892.7,849.1 899.2,849.2 C905.7,849.3 907.9,848.1 916.7,848.0 C925.4,848.0 939.4,848.6 951.7,848.8 C964.0,849.0 979.2,849.0 990.6,849.2 C1001.9,849.4 1010.0,850.0 1019.8,850.0 C1029.5,849.9 1039.2,849.1 1048.9,848.8 C1058.7,848.5 1068.4,848.4 1078.1,848.4 C1087.8,848.4 1097.6,848.9 1107.3,848.8 C1117.0,848.7 1126.7,848.0 1136.5,848.0 C1146.2,848.0 1154.3,848.7 1165.6,848.8 C1177.0,848.9 1198.0,848.5 1204.5,848.4 L1204.5,897.9 L823.3,897.9Z" fill="rgb(87,87,87)"/><path transform="translate(0,-13.00)" d="M823.3,848.8 C828.5,848.7 845.4,848.2 854.4,848.0 C863.5,847.8 870.3,847.4 877.8,847.6 C885.2,847.8 892.7,849.1 899.2,849.2 C905.7,849.3 907.9,848.1 916.7,848.0 C925.4,848.0 939.4,848.6 951.7,848.8 C964.0,849.0 979.2,849.0 990.6,849.2 C1001.9,849.4 1010.0,850.0 1019.8,850.0 C1029.5,849.9 1039.2,849.1 1048.9,848.8 C1058.7,848.5 1068.4,848.4 1078.1,848.4 C1087.8,848.4 1097.6,848.9 1107.3,848.8 C1117.0,848.7 1126.7,848.0 1136.5,848.0 C1146.2,848.0 1154.3,848.7 1165.6,848.8 C1177.0,848.9 1198.0,848.5 1204.5,848.4 L1204.5,897.9 L823.3,897.9Z" fill="rgb(91,91,91)"/><path transform="translate(0,-12.00)" d="M823.3,848.8 C828.5,848.7 845.4,848.2 854.4,848.0 C863.5,847.8 870.3,847.4 877.8,847.6 C885.2,847.8 892.7,849.1 899.2,849.2 C905.7,849.3 907.9,848.1 916.7,848.0 C925.4,848.0 939.4,848.6 951.7,848.8 C964.0,849.0 979.2,849.0 990.6,849.2 C1001.9,849.4 1010.0,850.0 1019.8,850.0 C1029.5,849.9 1039.2,849.1 1048.9,848.8 C1058.7,848.5 1068.4,848.4 1078.1,848.4 C1087.8,848.4 1097.6,848.9 1107.3,848.8 C1117.0,848.7 1126.7,848.0 1136.5,848.0 C1146.2,848.0 1154.3,848.7 1165.6,848.8 C1177.0,848.9 1198.0,848.5 1204.5,848.4 L1204.5,897.9 L823.3,897.9Z" fill="rgb(94,94,94)"/><path transform="translate(0,-11.00)" d="M823.3,848.8 C828.5,848.7 845.4,848.2 854.4,848.0 C863.5,847.8 870.3,847.4 877.8,847.6 C885.2,847.8 892.7,849.1 899.2,849.2 C905.7,849.3 907.9,848.1 916.7,848.0 C925.4,848.0 939.4,848.6 951.7,848.8 C964.0,849.0 979.2,849.0 990.6,849.2 C1001.9,849.4 1010.0,850.0 1019.8,850.0 C1029.5,849.9 1039.2,849.1 1048.9,848.8 C1058.7,848.5 1068.4,848.4 1078.1,848.4 C1087.8,848.4 1097.6,848.9 1107.3,848.8 C1117.0,848.7 1126.7,848.0 1136.5,848.0 C1146.2,848.0 1154.3,848.7 1165.6,848.8 C1177.0,848.9 1198.0,848.5 1204.5,848.4 L1204.5,897.9 L823.3,897.9Z" fill="rgb(105,105,105)"/><path transform="translate(0,-10.00)" d="M823.3,848.8 C828.5,848.7 845.4,848.2 854.4,848.0 C863.5,847.8 870.3,847.4 877.8,847.6 C885.2,847.8 892.7,849.1 899.2,849.2 C905.7,849.3 907.9,848.1 916.7,848.0 C925.4,848.0 939.4,848.6 951.7,848.8 C964.0,849.0 979.2,849.0 990.6,849.2 C1001.9,849.4 1010.0,850.0 1019.8,850.0 C1029.5,849.9 1039.2,849.1 1048.9,848.8 C1058.7,848.5 1068.4,848.4 1078.1,848.4 C1087.8,848.4 1097.6,848.9 1107.3,848.8 C1117.0,848.7 1126.7,848.0 1136.5,848.0 C1146.2,848.0 1154.3,848.7 1165.6,848.8 C1177.0,848.9 1198.0,848.5 1204.5,848.4 L1204.5,897.9 L823.3,897.9Z" fill="rgb(115,115,115)"/><path transform="translate(0,-9.00)" d="M823.3,848.8 C828.5,848.7 845.4,848.2 854.4,848.0 C863.5,847.8 870.3,847.4 877.8,847.6 C885.2,847.8 892.7,849.1 899.2,849.2 C905.7,849.3 907.9,848.1 916.7,848.0 C925.4,848.0 939.4,848.6 951.7,848.8 C964.0,849.0 979.2,849.0 990.6,849.2 C1001.9,849.4 1010.0,850.0 1019.8,850.0 C1029.5,849.9 1039.2,849.1 1048.9,848.8 C1058.7,848.5 1068.4,848.4 1078.1,848.4 C1087.8,848.4 1097.6,848.9 1107.3,848.8 C1117.0,848.7 1126.7,848.0 1136.5,848.0 C1146.2,848.0 1154.3,848.7 1165.6,848.8 C1177.0,848.9 1198.0,848.5 1204.5,848.4 L1204.5,897.9 L823.3,897.9Z" fill="rgb(126,126,126)"/><path transform="translate(0,-8.00)" d="M823.3,848.8 C828.5,848.7 845.4,848.2 854.4,848.0 C863.5,847.8 870.3,847.4 877.8,847.6 C885.2,847.8 892.7,849.1 899.2,849.2 C905.7,849.3 907.9,848.1 916.7,848.0 C925.4,848.0 939.4,848.6 951.7,848.8 C964.0,849.0 979.2,849.0 990.6,849.2 C1001.9,849.4 1010.0,850.0 1019.8,850.0 C1029.5,849.9 1039.2,849.1 1048.9,848.8 C1058.7,848.5 1068.4,848.4 1078.1,848.4 C1087.8,848.4 1097.6,848.9 1107.3,848.8 C1117.0,848.7 1126.7,848.0 1136.5,848.0 C1146.2,848.0 1154.3,848.7 1165.6,848.8 C1177.0,848.9 1198.0,848.5 1204.5,848.4 L1204.5,897.9 L823.3,897.9Z" fill="rgb(138,138,138)"/><path transform="translate(0,-7.00)" d="M823.3,848.8 C828.5,848.7 845.4,848.2 854.4,848.0 C863.5,847.8 870.3,847.4 877.8,847.6 C885.2,847.8 892.7,849.1 899.2,849.2 C905.7,849.3 907.9,848.1 916.7,848.0 C925.4,848.0 939.4,848.6 951.7,848.8 C964.0,849.0 979.2,849.0 990.6,849.2 C1001.9,849.4 1010.0,850.0 1019.8,850.0 C1029.5,849.9 1039.2,849.1 1048.9,848.8 C1058.7,848.5 1068.4,848.4 1078.1,848.4 C1087.8,848.4 1097.6,848.9 1107.3,848.8 C1117.0,848.7 1126.7,848.0 1136.5,848.0 C1146.2,848.0 1154.3,848.7 1165.6,848.8 C1177.0,848.9 1198.0,848.5 1204.5,848.4 L1204.5,897.9 L823.3,897.9Z" fill="rgb(150,150,150)"/><path transform="translate(0,-6.00)" d="M823.3,848.8 C828.5,848.7 845.4,848.2 854.4,848.0 C863.5,847.8 870.3,847.4 877.8,847.6 C885.2,847.8 892.7,849.1 899.2,849.2 C905.7,849.3 907.9,848.1 916.7,848.0 C925.4,848.0 939.4,848.6 951.7,848.8 C964.0,849.0 979.2,849.0 990.6,849.2 C1001.9,849.4 1010.0,850.0 1019.8,850.0 C1029.5,849.9 1039.2,849.1 1048.9,848.8 C1058.7,848.5 1068.4,848.4 1078.1,848.4 C1087.8,848.4 1097.6,848.9 1107.3,848.8 C1117.0,848.7 1126.7,848.0 1136.5,848.0 C1146.2,848.0 1154.3,848.7 1165.6,848.8 C1177.0,848.9 1198.0,848.5 1204.5,848.4 L1204.5,897.9 L823.3,897.9Z" fill="rgb(163,163,163)"/><path transform="translate(0,-5.00)" d="M823.3,848.8 C828.5,848.7 845.4,848.2 854.4,848.0 C863.5,847.8 870.3,847.4 877.8,847.6 C885.2,847.8 892.7,849.1 899.2,849.2 C905.7,849.3 907.9,848.1 916.7,848.0 C925.4,848.0 939.4,848.6 951.7,848.8 C964.0,849.0 979.2,849.0 990.6,849.2 C1001.9,849.4 1010.0,850.0 1019.8,850.0 C1029.5,849.9 1039.2,849.1 1048.9,848.8 C1058.7,848.5 1068.4,848.4 1078.1,848.4 C1087.8,848.4 1097.6,848.9 1107.3,848.8 C1117.0,848.7 1126.7,848.0 1136.5,848.0 C1146.2,848.0 1154.3,848.7 1165.6,848.8 C1177.0,848.9 1198.0,848.5 1204.5,848.4 L1204.5,897.9 L823.3,897.9Z" fill="rgb(177,177,177)"/><path transform="translate(0,-4.00)" d="M823.3,848.8 C828.5,848.7 845.4,848.2 854.4,848.0 C863.5,847.8 870.3,847.4 877.8,847.6 C885.2,847.8 892.7,849.1 899.2,849.2 C905.7,849.3 907.9,848.1 916.7,848.0 C925.4,848.0 939.4,848.6 951.7,848.8 C964.0,849.0 979.2,849.0 990.6,849.2 C1001.9,849.4 1010.0,850.0 1019.8,850.0 C1029.5,849.9 1039.2,849.1 1048.9,848.8 C1058.7,848.5 1068.4,848.4 1078.1,848.4 C1087.8,848.4 1097.6,848.9 1107.3,848.8 C1117.0,848.7 1126.7,848.0 1136.5,848.0 C1146.2,848.0 1154.3,848.7 1165.6,848.8 C1177.0,848.9 1198.0,848.5 1204.5,848.4 L1204.5,897.9 L823.3,897.9Z" fill="rgb(191,191,191)"/><path transform="translate(0,-3.00)" d="M823.3,848.8 C828.5,848.7 845.4,848.2 854.4,848.0 C863.5,847.8 870.3,847.4 877.8,847.6 C885.2,847.8 892.7,849.1 899.2,849.2 C905.7,849.3 907.9,848.1 916.7,848.0 C925.4,848.0 939.4,848.6 951.7,848.8 C964.0,849.0 979.2,849.0 990.6,849.2 C1001.9,849.4 1010.0,850.0 1019.8,850.0 C1029.5,849.9 1039.2,849.1 1048.9,848.8 C1058.7,848.5 1068.4,848.4 1078.1,848.4 C1087.8,848.4 1097.6,848.9 1107.3,848.8 C1117.0,848.7 1126.7,848.0 1136.5,848.0 C1146.2,848.0 1154.3,848.7 1165.6,848.8 C1177.0,848.9 1198.0,848.5 1204.5,848.4 L1204.5,897.9 L823.3,897.9Z" fill="rgb(208,208,208)"/><path transform="translate(0,-2.00)" d="M823.3,848.8 C828.5,848.7 845.4,848.2 854.4,848.0 C863.5,847.8 870.3,847.4 877.8,847.6 C885.2,847.8 892.7,849.1 899.2,849.2 C905.7,849.3 907.9,848.1 916.7,848.0 C925.4,848.0 939.4,848.6 951.7,848.8 C964.0,849.0 979.2,849.0 990.6,849.2 C1001.9,849.4 1010.0,850.0 1019.8,850.0 C1029.5,849.9 1039.2,849.1 1048.9,848.8 C1058.7,848.5 1068.4,848.4 1078.1,848.4 C1087.8,848.4 1097.6,848.9 1107.3,848.8 C1117.0,848.7 1126.7,848.0 1136.5,848.0 C1146.2,848.0 1154.3,848.7 1165.6,848.8 C1177.0,848.9 1198.0,848.5 1204.5,848.4 L1204.5,897.9 L823.3,897.9Z" fill="rgb(225,225,225)"/><path transform="translate(0,-1.00)" d="M823.3,848.8 C828.5,848.7 845.4,848.2 854.4,848.0 C863.5,847.8 870.3,847.4 877.8,847.6 C885.2,847.8 892.7,849.1 899.2,849.2 C905.7,849.3 907.9,848.1 916.7,848.0 C925.4,848.0 939.4,848.6 951.7,848.8 C964.0,849.0 979.2,849.0 990.6,849.2 C1001.9,849.4 1010.0,850.0 1019.8,850.0 C1029.5,849.9 1039.2,849.1 1048.9,848.8 C1058.7,848.5 1068.4,848.4 1078.1,848.4 C1087.8,848.4 1097.6,848.9 1107.3,848.8 C1117.0,848.7 1126.7,848.0 1136.5,848.0 C1146.2,848.0 1154.3,848.7 1165.6,848.8 C1177.0,848.9 1198.0,848.5 1204.5,848.4 L1204.5,897.9 L823.3,897.9Z" fill="rgb(239,239,239)"/><path transform="translate(0,-0.00)" d="M823.3,848.8 C828.5,848.7 845.4,848.2 854.4,848.0 C863.5,847.8 870.3,847.4 877.8,847.6 C885.2,847.8 892.7,849.1 899.2,849.2 C905.7,849.3 907.9,848.1 916.7,848.0 C925.4,848.0 939.4,848.6 951.7,848.8 C964.0,849.0 979.2,849.0 990.6,849.2 C1001.9,849.4 1010.0,850.0 1019.8,850.0 C1029.5,849.9 1039.2,849.1 1048.9,848.8 C1058.7,848.5 1068.4,848.4 1078.1,848.4 C1087.8,848.4 1097.6,848.9 1107.3,848.8 C1117.0,848.7 1126.7,848.0 1136.5,848.0 C1146.2,848.0 1154.3,848.7 1165.6,848.8 C1177.0,848.9 1198.0,848.5 1204.5,848.4 L1204.5,897.9 L823.3,897.9Z" fill="rgb(255,255,255)"/></g>
</g></g>
<rect x="1192.8" y="723.4" width="21.4" height="153.7" fill="url(#cbar)"/>
<rect x="1192.8" y="723.4" width="21.4" height="3.6" fill="#9a3300"/>
<rect x="1192.8" y="727.4" width="21.4" height="1.5" fill="#858585"/>
<rect x="1192.8" y="871.9" width="21.4" height="1.4" fill="#5c5c5c"/>
<rect x="1192.8" y="873.3" width="21.4" height="3.8" fill="#000"/>
<rect x="1192.5" y="723.4" width="0.9" height="153.7" fill="#555" opacity="0.45"/>
<rect x="1213.6" y="723.4" width="0.9" height="153.7" fill="#555" opacity="0.45"/>
<rect x="1218.0" y="730.7" width="5.6" height="1.9" fill="#303030" filter="url(#tb2)"/>
<text font-weight="bold" font-family='"Liberation Mono",monospace' font-size="16.73" fill="#2e2e2e" filter="url(#tb2)" transform="translate(1225.26,737.10) scale(0.6534,1)">1.7</text>
<rect x="1218.0" y="758.9" width="5.6" height="1.9" fill="#303030" filter="url(#tb2)"/>
<text font-weight="bold" font-family='"Liberation Mono",monospace' font-size="16.73" fill="#2e2e2e" filter="url(#tb2)" transform="translate(1225.26,765.30) scale(0.6534,1)">1.7</text>
<rect x="1218.0" y="787.0" width="5.6" height="1.9" fill="#303030" filter="url(#tb2)"/>
<text font-weight="bold" font-family='"Liberation Mono",monospace' font-size="16.18" fill="#2e2e2e" filter="url(#tb2)" transform="translate(1225.27,793.24) scale(0.6707,1)">1.6</text>
<rect x="1218.0" y="815.5" width="5.6" height="1.9" fill="#303030" filter="url(#tb2)"/>
<text font-weight="bold" font-family='"Liberation Mono",monospace' font-size="16.18" fill="#2e2e2e" filter="url(#tb2)" transform="translate(1225.27,821.74) scale(0.6707,1)">1.6</text>
<rect x="1218.0" y="843.5" width="5.6" height="1.9" fill="#303030" filter="url(#tb2)"/>
<text font-weight="bold" font-family='"Liberation Mono",monospace' font-size="16.48" fill="#2e2e2e" filter="url(#tb2)" transform="translate(1225.27,849.74) scale(0.6574,1)">1.5</text>
<rect x="1218.0" y="871.2" width="5.6" height="1.9" fill="#303030" filter="url(#tb2)"/>
<text font-weight="bold" font-family='"Liberation Mono",monospace' font-size="16.73" fill="#2e2e2e" filter="url(#tb2)" transform="translate(1225.28,877.60) scale(0.6390,1)">1.4</text>
<text font-weight="bold" font-family='"Liberation Sans",sans-serif' font-size="15.55" fill="#484848" filter="url(#tb2)" transform="translate(810.65,730.84) scale(0.8239,1)">250</text>
<rect x="834.0" y="723.0" width="5.6" height="1.8" fill="#484848" filter="url(#tb2)"/>
<text font-weight="bold" font-family='"Liberation Sans",sans-serif' font-size="15.55" fill="#484848" filter="url(#tb2)" transform="translate(810.79,883.64) scale(0.8184,1)">050</text>
<rect x="834.0" y="875.7" width="5.6" height="1.8" fill="#484848" filter="url(#tb2)"/>
<g clip-path="url(#clipxG)"><text font-weight="bold" font-family='"Liberation Sans",sans-serif' font-size="15.55" fill="#484848" filter="url(#tb2)" transform="translate(832.65,899.64) scale(0.7726,1)">150</text></g>
<g clip-path="url(#clipxG)"><text font-weight="bold" font-family='"Liberation Sans",sans-serif' font-size="15.55" fill="#484848" filter="url(#tb2)" transform="translate(1176.18,899.64) scale(0.8050,1)">650</text></g>
<rect x="842.3" y="880.7" width="0.9" height="1.2" fill="#999"/>
<rect x="1187.2" y="880.7" width="0.9" height="1.2" fill="#999"/>
<rect x="1092.8" y="853.2" width="92.7" height="7.6" fill="#fff"/>
<text font-weight="bold" font-family='"Liberation Sans",sans-serif' font-size="13.92" fill="#fff" stroke="#fff" stroke-width="0.30" transform="translate(1116.65,872.86) scale(1.0331,1)">25 µm</text>
<rect x="1498.2" y="518.8" width="350.8" height="336.7" fill="#000"/>
<g clip-path="url(#clipI)">
<g filter="url(#cb1)">
<g clip-path="url(#clipCellI)">
<g filter="url(#grainI)">
<use href="#cellI" fill="#9a0000"/>
<g filter="url(#cb8)"><ellipse cx="1645.9" cy="693.0" rx="44" ry="50" fill="#2a0000" opacity="1" transform="rotate(-25 1645.9 693.0)"/><ellipse cx="1624.0" cy="672.4" rx="34" ry="26" fill="#2c0000" opacity="0.9"/><ellipse cx="1662.7" cy="718.8" rx="26" ry="24" fill="#2c0000" opacity="0.8"/><ellipse cx="1784.0" cy="659.5" rx="34" ry="44" fill="#380000" opacity="0.6"/><ellipse cx="1776.2" cy="747.2" rx="34" ry="44" fill="#380000" opacity="0.55"/><ellipse cx="1727.2" cy="623.4" rx="40" ry="18" fill="#400000" opacity="0.4"/></g>
<g filter="url(#cb4)">
<ellipse cx="1719.5" cy="711.1" rx="20" ry="70" fill="#d40000" opacity="0.55" transform="rotate(-12 1719.5 711.1)"/>
<ellipse cx="1572.4" cy="744.6" rx="42" ry="20" fill="#d00000" opacity="0.55" transform="rotate(-15 1572.4 744.6)"/>
<ellipse cx="1680.8" cy="773.0" rx="26" ry="40" fill="#d40000" opacity="0.55"/>
<ellipse cx="1644.6" cy="628.5" rx="62" ry="14" fill="#c80000" opacity="0.45" transform="rotate(8 1644.6 628.5)"/>
<ellipse cx="1580.1" cy="631.1" rx="16" ry="30" fill="#c80000" opacity="0.4"/>
<path d="M1559.5,543.4 L1691.1,600.1 L1605.9,602.7Z" fill="#e40000" opacity="0.75"/>
<ellipse cx="1706.6" cy="600.1" rx="50" ry="12" fill="#e00000" opacity="0.5" transform="rotate(12 1706.6 600.1)"/>
</g>
</g>
<use href="#cellI" fill="none" stroke="#ff1414" stroke-width="3.2" opacity="0.7" filter="url(#cb05)"/>
<g filter="url(#cb05)">
<path d="M1560.4,567.4 L1566.3,583.1 L1568.3,596.2 L1566.3,613.2 L1561.8,632.8 L1556.5,649.8 L1550.0,665.5 L1543.4,685.0 L1534.3,702.0 L1523.8,719.0 L1514.6,729.5" fill="none" stroke="#ff1010" stroke-width="4.5" stroke-linecap="round" stroke-linejoin="round" opacity="0.95"/>
<path d="M1555.6,542.1 L1580.1,569.2 L1605.9,601.4" fill="none" stroke="#ff1818" stroke-width="2.0" stroke-linecap="round" stroke-linejoin="round" opacity="1"/>
<path d="M1562.6,546.0 L1587.9,574.3 L1609.8,598.1" fill="none" stroke="#ff1818" stroke-width="3.2" stroke-linecap="round" stroke-linejoin="round" opacity="0.9"/>
<path d="M1572.4,547.2 L1618.8,589.8 L1691.1,605.3" fill="none" stroke="#ff1818" stroke-width="1.8" stroke-linecap="round" stroke-linejoin="round" opacity="0.8"/>
<path d="M1580.1,551.1 L1639.5,582.1 L1706.6,597.6" fill="none" stroke="#ff1818" stroke-width="1.5" stroke-linecap="round" stroke-linejoin="round" opacity="0.7"/>
<path d="M1594.3,588.5 L1605.9,602.7 L1616.3,600.1 L1598.2,587.2" fill="none" stroke="#ff1818" stroke-width="4" stroke-linecap="round" stroke-linejoin="round" opacity="1"/>
<path d="M1572.4,556.3 L1593.0,579.5 L1608.5,598.8" fill="none" stroke="#ff1818" stroke-width="5.5" stroke-linecap="round" stroke-linejoin="round" opacity="0.9"/>
<path d="M1582.7,561.4 L1616.3,587.2 L1649.8,600.1" fill="none" stroke="#ff1818" stroke-width="3.0" stroke-linecap="round" stroke-linejoin="round" opacity="0.75"/>
<path d="M1734.9,669.8 L1754.3,636.3 L1763.3,618.2" fill="none" stroke="#ff1818" stroke-width="1.8" stroke-linecap="round" stroke-linejoin="round" opacity="0.9"/>
<path d="M1727.2,676.2 L1742.7,659.5" fill="none" stroke="#ff1818" stroke-width="2.6" stroke-linecap="round" stroke-linejoin="round" opacity="0.9"/>
<path d="M1753.0,718.8 L1791.7,705.9 L1823.9,693.5" fill="none" stroke="#ff1818" stroke-width="1.8" stroke-linecap="round" stroke-linejoin="round" opacity="0.95"/>
<path d="M1755.6,711.1 L1814.9,684.0" fill="none" stroke="#ff1818" stroke-width="1.3" stroke-linecap="round" stroke-linejoin="round" opacity="0.8"/>
<path d="M1763.3,722.7 L1820.1,702.0" fill="none" stroke="#ff1818" stroke-width="1.2" stroke-linecap="round" stroke-linejoin="round" opacity="0.7"/>
<path d="M1742.7,783.3 L1768.5,762.7 L1794.3,775.6" fill="none" stroke="#ff1818" stroke-width="1.6" stroke-linecap="round" stroke-linejoin="round" opacity="0.8"/>
<path d="M1675.6,847.8 L1714.3,819.4 L1765.9,796.2 L1795.6,792.3" fill="none" stroke="#ff1818" stroke-width="1.6" stroke-linecap="round" stroke-linejoin="round" opacity="0.8"/>
<path d="M1673.0,850.4 L1696.2,811.7 L1742.7,780.7" fill="none" stroke="#ff1818" stroke-width="1.4" stroke-linecap="round" stroke-linejoin="round" opacity="0.8"/>
<path d="M1778.8,613.0 L1786.5,649.2 L1812.3,680.1" fill="none" stroke="#ff1818" stroke-width="1.2" stroke-linecap="round" stroke-linejoin="round" opacity="0.7"/>
<path d="M1526.0,819.4 L1538.9,773.0 L1554.3,736.9" fill="none" stroke="#ff1818" stroke-width="1.4" stroke-linecap="round" stroke-linejoin="round" opacity="0.8"/>
<path d="M1768.5,592.4 L1753.0,638.8 L1742.7,669.8" fill="none" stroke="#ff1818" stroke-width="1.2" stroke-linecap="round" stroke-linejoin="round" opacity="0.6"/>
<path d="M1660.1,551.1 L1701.4,582.1 L1753.0,592.4" fill="none" stroke="#ff1818" stroke-width="1.4" stroke-linecap="round" stroke-linejoin="round" opacity="0.7"/>
<path d="M1791.7,711.1 L1778.8,747.2 L1784.0,785.9" fill="none" stroke="#ff1818" stroke-width="1.1" stroke-linecap="round" stroke-linejoin="round" opacity="0.6"/>
<path d="M1804.6,700.8 L1799.4,734.3 L1804.6,767.8" fill="none" stroke="#ff1818" stroke-width="1.1" stroke-linecap="round" stroke-linejoin="round" opacity="0.6"/>
</g>
<g filter="url(#cb1)">
<circle cx="1585.3" cy="623.4" r="4.2" fill="#ff2c2c" opacity="0.95"/>
<circle cx="1582.7" cy="638.8" r="3.9" fill="#ff2c2c" opacity="0.95"/>
<circle cx="1616.3" cy="633.7" r="4.5" fill="#ff2c2c" opacity="0.95"/>
<circle cx="1649.8" cy="620.8" r="4.5" fill="#ff2c2c" opacity="0.95"/>
<circle cx="1660.1" cy="641.4" r="5.5" fill="#ff2c2c" opacity="0.95"/>
<circle cx="1673.0" cy="625.9" r="4.2" fill="#ff2c2c" opacity="0.95"/>
<circle cx="1680.8" cy="654.3" r="3.9" fill="#ff2c2c" opacity="0.95"/>
<circle cx="1709.1" cy="656.9" r="4.2" fill="#ff2c2c" opacity="0.95"/>
<circle cx="1722.0" cy="672.4" r="4.8" fill="#ff2c2c" opacity="0.95"/>
<circle cx="1729.8" cy="690.4" r="5.2" fill="#ff2c2c" opacity="0.95"/>
<circle cx="1719.5" cy="695.6" r="4.2" fill="#ff2c2c" opacity="0.95"/>
<circle cx="1704.0" cy="700.8" r="4.2" fill="#ff2c2c" opacity="0.95"/>
<circle cx="1714.3" cy="742.0" r="4.5" fill="#ff2c2c" opacity="0.95"/>
<circle cx="1696.2" cy="734.3" r="3.9" fill="#ff2c2c" opacity="0.95"/>
<circle cx="1688.5" cy="754.9" r="5.8" fill="#ff2c2c" opacity="0.95"/>
<circle cx="1670.4" cy="757.5" r="5.2" fill="#ff2c2c" opacity="0.95"/>
<circle cx="1680.8" cy="775.6" r="4.5" fill="#ff2c2c" opacity="0.95"/>
<circle cx="1685.9" cy="793.6" r="4.5" fill="#ff2c2c" opacity="0.95"/>
<circle cx="1649.8" cy="762.7" r="4.5" fill="#ff2c2c" opacity="0.95"/>
<circle cx="1554.3" cy="742.0" r="4.2" fill="#ff2c2c" opacity="0.95"/>
<circle cx="1564.7" cy="757.5" r="4.5" fill="#ff2c2c" opacity="0.95"/>
<circle cx="1551.8" cy="734.3" r="3.5" fill="#ff2c2c" opacity="0.95"/>
<circle cx="1559.5" cy="716.2" r="3.5" fill="#ff2c2c" opacity="0.95"/>
<circle cx="1753.0" cy="628.5" r="3.5" fill="#ff2c2c" opacity="0.95"/>
<circle cx="1755.6" cy="680.1" r="3.5" fill="#ff2c2c" opacity="0.95"/>
<circle cx="1675.6" cy="788.5" r="3.9" fill="#ff2c2c" opacity="0.95"/>
<circle cx="1701.4" cy="762.7" r="3.9" fill="#ff2c2c" opacity="0.95"/>
<circle cx="1716.9" cy="711.1" r="3.9" fill="#ff2c2c" opacity="0.95"/>
<circle cx="1639.5" cy="618.2" r="3.5" fill="#ff2c2c" opacity="0.95"/>
<circle cx="1603.4" cy="747.2" r="3.5" fill="#ff2c2c" opacity="0.95"/>
<circle cx="1577.6" cy="762.7" r="3.9" fill="#ff2c2c" opacity="0.95"/>
<circle cx="1660.1" cy="775.6" r="3.9" fill="#ff2c2c" opacity="0.95"/>
<circle cx="1696.2" cy="636.3" r="3.5" fill="#ff2c2c" opacity="0.95"/>
<circle cx="1569.8" cy="659.5" r="3.2" fill="#ff2c2c" opacity="0.95"/>
<circle cx="1763.3" cy="762.7" r="3.5" fill="#ff2c2c" opacity="0.95"/>
<circle cx="1742.7" cy="695.6" r="3.9" fill="#ff2c2c" opacity="0.95"/>
<circle cx="1737.5" cy="711.1" r="3.5" fill="#ff2c2c" opacity="0.95"/>
<circle cx="1691.1" cy="716.2" r="3.5" fill="#ff2c2c" opacity="0.95"/>
<circle cx="1629.2" cy="754.9" r="3.5" fill="#ff2c2c" opacity="0.95"/>
<circle cx="1575.0" cy="605.3" r="3.2" fill="#ff2c2c" opacity="0.95"/>
<circle cx="1603.4" cy="649.2" r="3.2" fill="#ff2c2c" opacity="0.95"/>
<circle cx="1639.5" cy="638.8" r="3.2" fill="#ff2c2c" opacity="0.95"/>
<circle cx="1734.9" cy="659.5" r="3.5" fill="#ff2c2c" opacity="0.95"/>
<circle cx="1706.6" cy="680.1" r="3.5" fill="#ff2c2c" opacity="0.95"/>
<circle cx="1724.6" cy="726.6" r="3.9" fill="#ff2c2c" opacity="0.95"/>
<circle cx="1675.6" cy="742.0" r="3.5" fill="#ff2c2c" opacity="0.95"/>
<circle cx="1660.1" cy="744.6" r="3.5" fill="#ff2c2c" opacity="0.95"/>
<circle cx="1691.1" cy="809.1" r="3.9" fill="#ff2c2c" opacity="0.95"/>
<circle cx="1613.7" cy="754.9" r="3.5" fill="#ff2c2c" opacity="0.95"/>
<circle cx="1590.5" cy="716.2" r="3.2" fill="#ff2c2c" opacity="0.95"/>
<circle cx="1572.4" cy="693.0" r="3.2" fill="#ff2c2c" opacity="0.95"/>
<circle cx="1768.5" cy="700.8" r="3.2" fill="#ff2c2c" opacity="0.95"/>
<circle cx="1747.8" cy="742.0" r="3.2" fill="#ff2c2c" opacity="0.95"/>
<circle cx="1727.2" cy="760.1" r="3.5" fill="#ff2c2c" opacity="0.95"/>
<circle cx="1665.3" cy="811.7" r="3.5" fill="#ff2c2c" opacity="0.95"/>
<ellipse cx="1594.5" cy="738.5" rx="11.5" ry="8.0" fill="#ff0c0c" opacity="1" transform="rotate(-10 1594.5 738.5)"/>
<ellipse cx="1600.0" cy="735.0" rx="6" ry="5.5" fill="#ff1a1a" opacity="1"/>
</g>
</g>
</g>
<g filter="url(#cb05)">
<path d="M1781.0,564.1 L1777.0,574.0 L1774.0,588.0" fill="none" stroke="#e01010" stroke-width="1.6" stroke-linecap="round" stroke-linejoin="round" opacity="0.9"/>
<path d="M1692.6,520.2 L1689.5,532.0 L1687.0,548.0" fill="none" stroke="#e01010" stroke-width="1.8" stroke-linecap="round" stroke-linejoin="round" opacity="0.9"/>
<path d="M1809.7,640.7 L1828.1,634.1 L1843.8,624.3" fill="none" stroke="#e01010" stroke-width="1.8" stroke-linecap="round" stroke-linejoin="round" opacity="0.9"/>
<path d="M1828.1,634.1 L1835.9,645.9" fill="none" stroke="#e01010" stroke-width="1.6" stroke-linecap="round" stroke-linejoin="round" opacity="0.9"/>
<circle cx="1834.6" cy="659" r="1.6" fill="#c01010"/>
<path d="M1525.8,821.1 L1527.5,808.0 L1530.0,800.0" fill="none" stroke="#e01010" stroke-width="2.0" stroke-linecap="round" stroke-linejoin="round" opacity="0.9"/>
<path d="M1586.0,535.0 L1590.0,538.0" fill="none" stroke="#b01010" stroke-width="1.6" stroke-linecap="round" stroke-linejoin="round" opacity="0.8"/>
</g>
</g>
<rect x="1784.2" y="826.2" width="51.1" height="6.5" fill="#fff"/>
<text font-weight="bold" font-family='"Liberation Sans",sans-serif' font-size="39.19" fill="#fff" stroke="#fff" stroke-width="0.60" transform="translate(1632.80,672.85) scale(1.0338,1)">*</text>
<text font-weight="bold" font-family='"Liberation Sans",sans-serif' font-size="39.19" fill="#fff" stroke="#fff" stroke-width="0.60" transform="translate(1667.10,741.45) scale(1.0338,1)">*</text>
<rect x="1506.0" y="928.9" width="343.0" height="337.9" fill="#000"/>
<g clip-path="url(#clipJ)">
<g filter="url(#cb1)">
<g clip-path="url(#clipCellJ)">
<g filter="url(#grainJ)">
<use href="#cellJ" fill="#780000"/>
<g filter="url(#cb8)"><ellipse cx="1624.0" cy="1095.3" rx="58" ry="70" fill="#180000" opacity="1" transform="rotate(10 1624.0 1095.3)"/><ellipse cx="1655.0" cy="1033.4" rx="46" ry="26" fill="#280000" opacity="0.75" transform="rotate(-10 1655.0 1033.4)"/><ellipse cx="1727.2" cy="1046.3" rx="46" ry="26" fill="#280000" opacity="0.7" transform="rotate(20 1727.2 1046.3)"/><ellipse cx="1701.4" cy="1121.1" rx="50" ry="30" fill="#200000" opacity="0.8"/></g>
</g>
<g transform="rotate(-44 1768.5 1143.7)"><path d="M1619.7,1112.1 L1681.5,1100.0 L1738.4,1115.5 L1794.9,1116.3 L1856.6,1097.0 L1916.7,1090.4 L1886.3,1125.6 L1828.7,1170.4 L1818.2,1192.5 L1767.2,1197.1 L1729.1,1214.1 L1686.7,1183.9 L1666.0,1153.2Z" fill="#ff0808" opacity="0.95" filter="url(#fibA)"/></g>
<g transform="rotate(-28 1601.8 1214.0)"><path d="M1537.3,1217.7 L1590.4,1172.8 L1670.5,1197.9 L1639.3,1245.6 L1571.5,1235.8Z" fill="#f00000" opacity="0.8" filter="url(#fibB)"/></g>
<g transform="rotate(-4 1666.2 987.9)"><path d="M1632.6,938.0 L1640.3,974.8 L1691.1,988.7 L1741.1,976.6 L1755.7,951.8 L1767.2,1009.5 L1725.3,1016.9 L1648.6,1003.8 L1609.5,1008.8 L1545.3,1001.7 L1571.6,995.8Z" fill="#e00000" opacity="0.6" filter="url(#fibC)"/></g>
<g transform="rotate(-20 1551.2 1136.6)"><path d="M1518.2,1108.1 L1567.2,1109.4 L1578.4,1146.4 L1558.8,1177.7 L1533.7,1141.1Z" fill="#e80000" opacity="0.7" filter="url(#fibB)"/></g>
<use href="#cellJ" fill="none" stroke="#ff1212" stroke-width="7" opacity="0.92" filter="url(#cb05)"/>
<g filter="url(#cb05)">
<path d="M1552.4,1007.5 L1568.1,1012.7 L1585.1,1014.0 L1602.1,1010.1 L1615.2,1003.5 L1625.7,994.4" fill="none" stroke="#ff1010" stroke-width="5" stroke-linecap="round" stroke-linejoin="round" opacity="0.95"/>
<path d="M1650.0,968.0 L1657.1,973.4 L1670.2,980.0 L1690.6,980.6 L1710.3,977.4 L1726.0,970.8 L1739.1,960.3 L1745.0,952.0" fill="none" stroke="#ff1010" stroke-width="13" stroke-linecap="round" stroke-linejoin="round" opacity="0.95"/>
<path d="M1763.0,988.0 L1769.2,998.3 L1782.3,1007.5 L1795.3,1011.4 L1808.4,1008.8 L1821.5,1000.9 L1832.0,993.1 L1842.0,988.0" fill="none" stroke="#ff1010" stroke-width="22" stroke-linecap="round" stroke-linejoin="round" opacity="0.95"/>
<path d="M1545.8,1153.9 L1552.4,1167.0 L1555.0,1184.0 L1552.4,1199.7 L1547.1,1215.4" fill="none" stroke="#ff1010" stroke-width="5" stroke-linecap="round" stroke-linejoin="round" opacity="0.95"/>
<path d="M1572.4,1023.0 Q1580.1,1090.1 1572.4,1157.2" fill="none" stroke="#ff1c1c" stroke-width="2.0" stroke-linecap="round" opacity="0.9"/>
<path d="M1634.3,974.0 Q1644.6,1002.4 1639.5,1033.4" fill="none" stroke="#ff1c1c" stroke-width="1.8" stroke-linecap="round" opacity="0.7"/>
<path d="M1649.8,1167.5 Q1701.4,1157.2 1753.0,1110.8" fill="none" stroke="#ff1c1c" stroke-width="2" stroke-linecap="round" opacity="0.85"/>
<path d="M1660.1,1188.2 Q1727.2,1177.8 1778.8,1136.6" fill="none" stroke="#ff1c1c" stroke-width="2" stroke-linecap="round" opacity="0.85"/>
<path d="M1554.3,1105.6 Q1546.6,1126.2 1510.5,1131.4" fill="none" stroke="#ff1c1c" stroke-width="2" stroke-linecap="round" opacity="0.9"/>
<path d="M1533.7,1012.7 Q1556.9,1023.0 1572.4,1025.6" fill="none" stroke="#ff1c1c" stroke-width="2" stroke-linecap="round" opacity="0.9"/>
<path d="M1605.9,1079.8 Q1608.5,1131.4 1603.4,1177.8" fill="none" stroke="#ff1c1c" stroke-width="1.4" stroke-linecap="round" opacity="0.6"/>
<path d="M1675.6,1002.4 Q1714.3,1010.1 1753.0,1002.4" fill="none" stroke="#ff1c1c" stroke-width="1.5" stroke-linecap="round" opacity="0.6"/>
<path d="M1773.6,1085.0 Q1799.4,1054.0 1820.1,1023.0" fill="none" stroke="#ff1c1c" stroke-width="2.4" stroke-linecap="round" opacity="0.9"/>
<path d="M1778.8,1105.6 Q1809.8,1069.5 1830.4,1033.4" fill="none" stroke="#ff1c1c" stroke-width="2.2" stroke-linecap="round" opacity="0.9"/>
</g>
</g>
</g>
<circle cx="1698.8" cy="1086.2" r="64" fill="url(#gN)" filter="url(#grainN)"/>
<g filter="url(#cb05)">
<path d="M1673.0,1059.2 L1685.9,1069.5" fill="none" stroke="#ff30c0" stroke-width="1.4" stroke-linecap="round" stroke-linejoin="round" opacity="0.9"/>
<path d="M1688.5,1059.2 L1701.4,1072.1" fill="none" stroke="#ff30c0" stroke-width="1.4" stroke-linecap="round" stroke-linejoin="round" opacity="0.9"/>
<circle cx="1716.9" cy="1105.6" r="1.1" fill="#e020a0" opacity="0.8"/>
<circle cx="1701.4" cy="1115.9" r="1.1" fill="#e020a0" opacity="0.8"/>
<circle cx="1680.8" cy="1103.0" r="1.1" fill="#e020a0" opacity="0.8"/>
<circle cx="1722.0" cy="1079.8" r="1.1" fill="#e020a0" opacity="0.8"/>
</g>
</g>
<rect x="1805.7" y="1239.2" width="40.4" height="5.5" fill="#fff"/>
<path d="M1657.1,1042.6 L1679.4,1026.9 L1684.9,1057.0Z" fill="#fff"/>
<path d="M1748.9,1065.1 L1770.5,1048.7 L1776.4,1078.8Z" fill="#fff"/>
<path d="M1645.3,1148.7 L1666.9,1133.0 L1672.8,1162.4Z" fill="#fff"/>
<text font-family='"Liberation Sans",sans-serif' font-size="34.21" fill="#000" transform="translate(24.06,24.80) scale(0.9540,1)">(a)</text>
<text font-family='"Liberation Sans",sans-serif' font-size="34.21" fill="#000" transform="translate(14.90,256.80) scale(0.9833,1)">(b)</text>
<text font-family='"Liberation Sans",sans-serif' font-size="34.10" fill="#000" transform="translate(770.90,26.92) scale(0.9873,1)">(c)</text>
<text font-family='"Liberation Sans",sans-serif' font-size="33.89" fill="#000" transform="translate(767.90,256.07) scale(0.9926,1)">(d)</text>
<text font-family='"Liberation Sans",sans-serif' font-size="34.21" fill="#000" transform="translate(-2.44,721.80) scale(0.9992,1)">(e)</text>
<text font-family='"Liberation Sans",sans-serif' font-size="34.42" fill="#000" transform="translate(9.82,943.06) scale(0.9671,1)">(f)</text>
<text font-family='"Liberation Sans",sans-serif' font-size="34.42" fill="#000" transform="translate(758.74,736.06) scale(0.9560,1)">(g)</text>
<text font-family='"Liberation Sans",sans-serif' font-size="34.21" fill="#000" transform="translate(756.01,929.00) scale(0.9753,1)">(h)</text>
<text font-family='"Liberation Sans",sans-serif' font-size="34.21" fill="#000" transform="translate(1453.76,536.10) scale(1.0011,1)">(i)</text>
<text font-family='"Liberation Sans",sans-serif' font-size="34.10" fill="#000" transform="translate(1459.76,943.12) scale(1.0043,1)">(j)</text>
</svg>
</body></html>
